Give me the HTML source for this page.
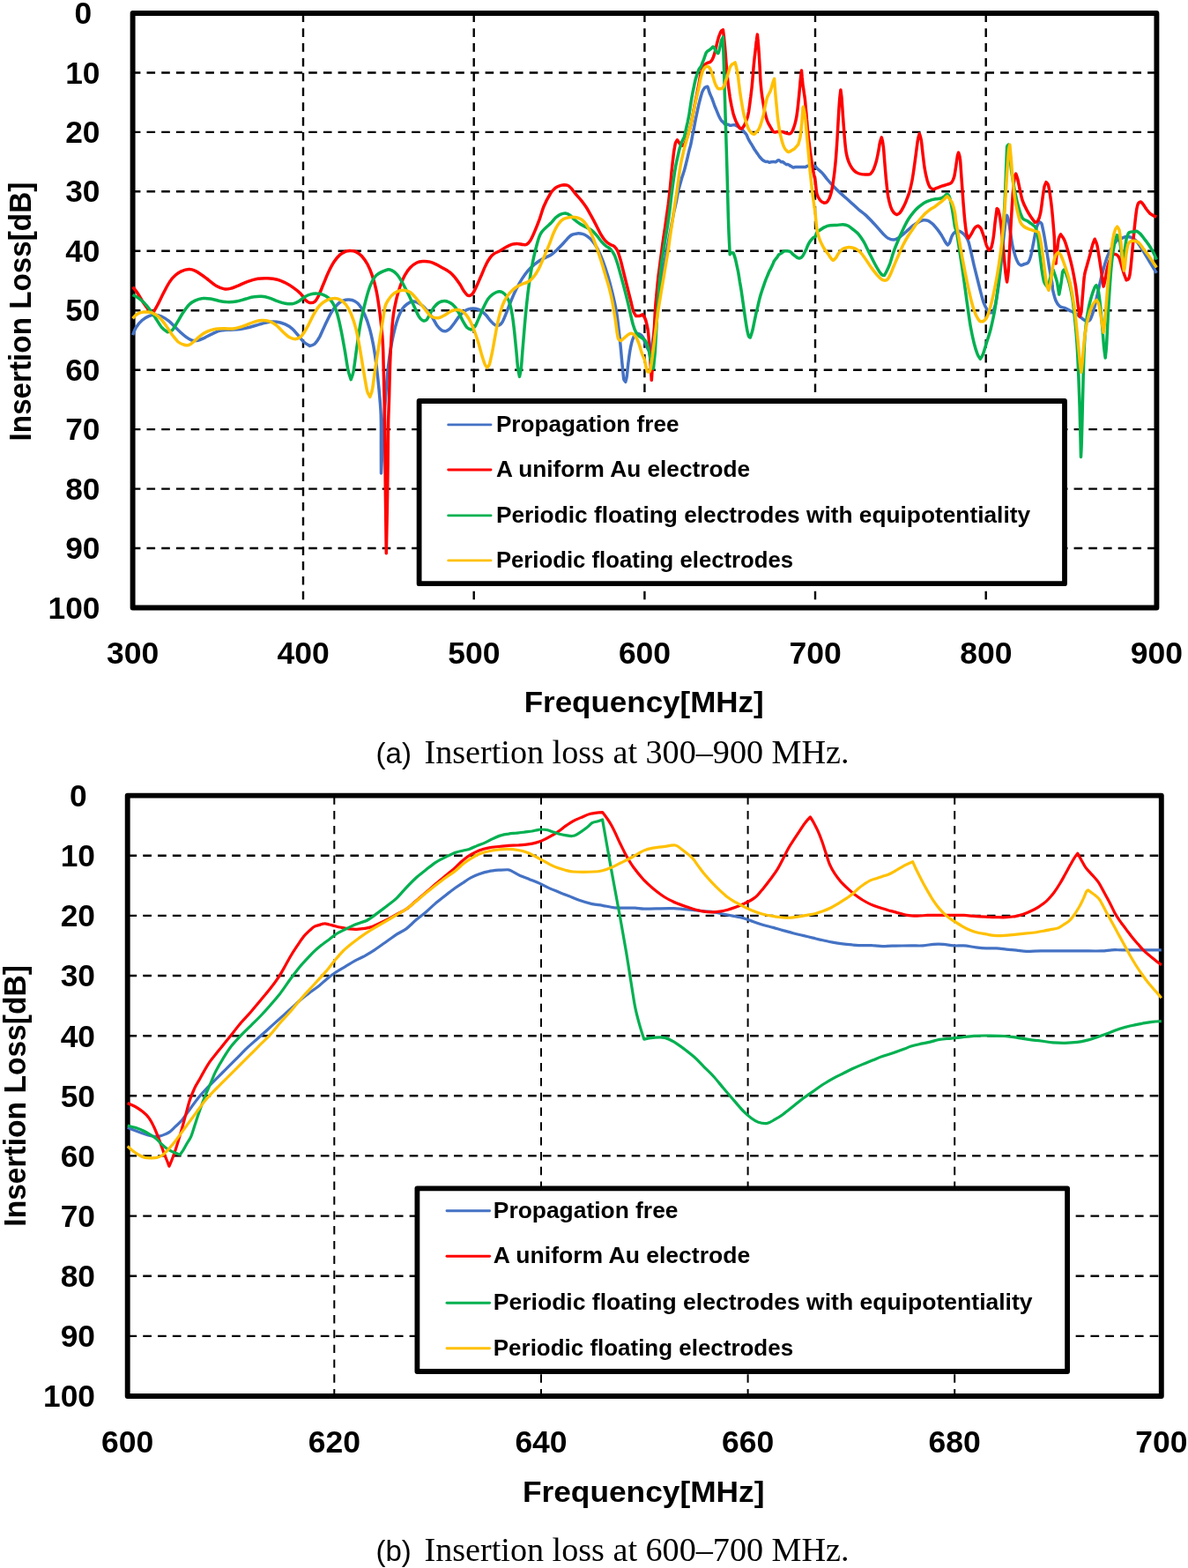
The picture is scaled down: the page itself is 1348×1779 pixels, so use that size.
<!DOCTYPE html>
<html lang="en">
<head>
<meta charset="utf-8">
<title>Insertion loss</title>
<style>
html,body{margin:0;padding:0;background:#fff;}
svg{display:block;}
</style>
</head>
<body>
<svg width="1348" height="1779" viewBox="0 0 1348 1779">
<rect width="1348" height="1779" fill="#fff"/>
<path d="M150.3,82.5H1312.4M150.3,149.9H1312.4M150.3,217.3H1312.4M150.3,284.8H1312.4M150.3,352.2H1312.4M150.3,419.7H1312.4M150.3,487.1H1312.4M150.3,554.6H1312.4M150.3,622.0H1312.4" fill="none" stroke="#000" stroke-width="2.4" stroke-dasharray="9.6 7.1" stroke-dashoffset="0.5"/>
<path d="M344.0,15.0V689.5M537.7,15.0V689.5M731.4,15.0V689.5M925.0,15.0V689.5M1118.7,15.0V689.5" fill="none" stroke="#000" stroke-width="2.4" stroke-dasharray="9.6 7.2" stroke-dashoffset="-0.5"/>
<rect x="150.6" y="15.0" width="1161.8" height="674.5" fill="none" stroke="#000" stroke-width="5.9" stroke-linejoin="round"/>
<path d="M150.6,380.2C151.2,378.7 152.7,374.1 154.5,371.3C156.2,368.5 158.7,365.6 161.1,363.5C163.5,361.4 166.5,359.6 168.9,358.6C171.3,357.5 173.2,357.2 175.6,357.2C178.0,357.3 180.8,357.9 183.4,359.0C186.0,360.1 188.8,362.1 191.2,363.9C193.6,365.8 195.6,368.0 197.9,370.2C200.1,372.3 202.3,374.8 204.5,376.8C206.8,378.9 209.0,380.8 211.2,382.4C213.4,384.0 215.7,385.6 217.9,386.2C220.1,386.8 222.1,386.7 224.6,386.2C227.0,385.7 229.6,384.3 232.4,383.1C235.1,381.8 238.3,379.9 241.3,378.6C244.2,377.3 246.8,375.8 250.2,375.1C253.5,374.3 257.6,374.4 261.3,374.2C265.0,373.9 268.7,374.0 272.4,373.5C276.1,373.0 279.8,372.2 283.5,371.3C287.3,370.3 291.0,368.9 294.7,367.9C298.4,366.9 302.5,365.7 305.8,365.3C309.1,364.8 311.7,364.8 314.7,365.3C317.7,365.7 320.8,366.7 323.6,367.9C326.4,369.2 329.0,370.8 331.4,372.8C333.8,374.9 335.8,377.6 338.1,380.2C340.3,382.7 342.5,385.9 344.7,388.0C347.0,390.0 351.4,392.4 351.4,392.4C351.4,392.4 355.2,391.8 357.0,390.2C358.8,388.6 360.7,385.8 362.6,382.4C364.4,379.0 367.0,372.6 369.2,367.9C371.5,363.3 373.7,358.3 375.9,354.6C378.1,350.9 380.4,347.9 382.6,345.7C384.8,343.4 387.0,342.1 389.3,341.2C391.5,340.3 393.7,340.0 395.9,340.1C398.2,340.2 400.6,340.6 402.6,341.7C404.7,342.8 406.4,344.3 408.2,346.8C410.0,349.2 411.9,352.6 413.7,356.8C415.6,361.0 417.6,366.4 419.3,372.4C421.0,378.3 422.5,385.4 423.8,392.4C425.1,399.5 426.1,406.5 427.1,414.7C428.1,422.8 429.1,432.1 430.0,441.4C430.8,450.6 431.8,459.5 432.2,470.1C432.6,480.7 432.4,493.8 432.4,505.0C432.4,516.2 432.5,537.0 432.5,537.0C432.5,537.0 433.5,517.0 434.2,505.0C434.9,493.0 435.6,478.0 436.5,465.0C437.4,452.0 438.6,435.8 439.4,427.0C440.2,418.2 441.0,411.6 441.9,405.0C442.8,398.4 443.7,393.0 444.8,387.3C445.9,381.7 447.3,375.7 448.5,371.0C449.8,366.3 450.9,362.6 452.3,359.1C453.6,355.7 455.1,352.6 456.7,350.2C458.3,347.9 460.0,346.4 461.9,345.0C463.8,343.7 466.0,342.4 467.8,342.1C469.7,341.7 471.2,342.1 473.0,342.8C474.9,343.6 477.0,344.9 479.0,346.5C480.9,348.1 482.9,350.1 484.9,352.5C486.9,354.8 489.0,357.8 490.8,360.6C492.7,363.5 494.3,367.2 496.0,369.5C497.8,371.9 499.5,373.7 501.2,374.7C502.9,375.7 504.8,375.8 506.4,375.5C508.0,375.1 509.3,374.0 510.9,372.5C512.4,371.0 514.2,368.3 516.1,365.8C517.9,363.3 520.0,359.9 522.0,357.7C524.0,355.4 525.9,353.7 527.9,352.5C529.9,351.2 531.9,350.6 533.9,350.2C535.8,349.9 537.8,349.9 539.8,350.2C541.8,350.6 543.7,351.2 545.7,352.5C547.7,353.7 549.8,355.7 551.7,357.7C553.5,359.6 555.1,362.5 556.9,364.3C558.6,366.2 560.4,368.0 562.0,368.8C563.7,369.5 565.1,369.4 566.5,368.8C567.9,368.2 569.2,366.9 570.2,365.1C571.3,363.3 573.1,358.6 574.7,354.7C576.3,350.7 578.0,345.8 579.9,341.3C581.7,336.9 583.7,332.2 585.8,328.0C587.9,323.8 590.2,319.6 592.5,316.1C594.7,312.7 596.8,309.9 599.1,307.2C601.5,304.5 603.8,302.0 606.6,299.8C609.3,297.6 612.2,295.7 615.5,293.9C618.7,292.0 623.3,290.4 625.9,288.7C628.6,287.0 629.9,285.3 631.9,283.5C633.8,281.6 635.8,279.6 637.8,277.5C639.8,275.4 641.9,272.7 643.7,270.9C645.6,269.0 647.1,267.4 648.9,266.4C650.8,265.4 652.9,265.1 654.9,264.9C656.8,264.8 658.9,264.9 660.8,265.4C662.7,265.9 664.1,266.6 666.0,267.9C667.8,269.2 670.0,270.7 671.9,273.1C673.9,275.4 675.9,278.3 677.9,282.0C679.8,285.7 681.8,290.1 683.8,295.3C685.8,300.5 687.9,307.0 689.7,313.1C691.6,319.3 693.3,325.8 694.9,332.4C696.5,339.1 698.1,346.0 699.4,353.2C700.6,360.4 701.5,368.0 702.3,375.5C703.2,382.9 703.9,390.8 704.6,397.7C705.2,404.6 705.8,411.7 706.4,417.0C706.9,422.4 707.5,429.0 707.8,430.4C708.1,431.7 709.8,433.3 709.8,433.3C709.8,433.3 710.9,429.8 711.2,427.4C711.6,425.0 712.4,415.3 713.2,409.6C713.9,403.9 714.8,397.5 715.7,393.3C716.6,389.0 717.7,385.0 718.7,382.9C719.6,380.8 722.4,378.4 722.4,378.4C722.4,378.4 724.8,378.4 726.1,379.2C727.3,379.9 728.9,381.4 729.8,382.9C730.7,384.3 731.0,386.6 731.5,387.9C732.0,389.3 732.4,390.1 732.9,391.2C733.4,392.3 733.9,393.5 734.4,394.5C734.9,395.5 735.6,396.8 735.9,397.2C736.2,397.6 737.0,397.8 737.0,397.8C737.0,397.8 737.5,397.5 737.7,397.2C737.9,396.8 738.2,396.3 738.4,395.6C738.7,395.0 739.1,394.1 739.4,393.0C739.6,391.9 740.1,389.1 740.5,386.8C740.9,384.5 741.3,382.2 741.7,379.1C742.2,376.0 742.7,371.2 743.2,367.0C743.7,362.8 744.3,357.8 744.9,353.8C745.4,349.7 745.9,346.4 746.5,342.7C747.1,339.1 747.7,335.4 748.4,331.7C749.0,328.1 749.6,324.4 750.2,320.7C750.8,317.0 751.4,313.4 752.0,309.7C752.6,306.0 753.3,302.2 753.9,298.7C754.5,295.2 755.1,292.1 755.7,288.8C756.3,285.5 756.9,282.2 757.5,278.9C758.2,275.5 758.8,272.2 759.4,268.9C760.0,265.6 760.6,262.3 761.2,259.0C761.8,255.7 762.5,252.0 763.1,249.1C763.6,246.2 764.0,243.8 764.5,241.4C765.0,239.0 765.5,237.0 766.0,234.8C766.5,232.6 767.0,230.6 767.5,228.2C767.9,225.8 768.4,222.9 768.9,220.5C769.4,218.1 769.8,216.1 770.4,213.9C771.0,211.7 771.6,209.5 772.2,207.3C772.8,205.0 773.5,202.7 774.1,200.6C774.7,198.6 775.3,197.2 775.9,195.1C776.5,193.1 777.1,191.2 777.7,188.5C778.4,185.9 779.4,181.7 780.1,178.8C780.8,175.9 781.3,173.4 781.9,171.1C782.5,168.7 783.1,167.1 783.7,164.4C784.3,161.8 785.0,157.7 785.6,154.5C786.2,151.4 786.8,148.8 787.4,145.7C788.0,142.6 788.6,138.9 789.2,135.8C789.9,132.7 790.5,129.9 791.1,127.0C791.7,124.1 792.4,121.0 792.9,118.6C793.5,116.2 793.9,114.6 794.4,112.7C794.9,110.8 795.4,108.7 795.9,107.2C796.3,105.6 796.8,104.4 797.3,103.2C797.9,102.0 798.6,100.8 799.2,100.1C799.7,99.4 800.4,99.1 801.0,98.8C801.6,98.5 802.8,98.3 802.8,98.3C802.8,98.3 803.3,99.4 803.6,100.1C803.8,100.8 804.5,103.4 805.0,105.0C805.6,106.5 806.3,107.9 806.9,109.4C807.5,110.8 808.1,112.1 808.7,113.8C809.3,115.4 809.9,117.6 810.6,119.3C811.2,120.9 811.8,122.2 812.4,123.7C813.0,125.2 813.6,126.6 814.2,128.1C814.8,129.6 815.3,131.0 816.1,132.5C816.8,133.9 817.9,136.0 818.5,136.8C819.1,137.6 819.8,137.8 820.4,138.5C821.1,139.2 821.9,140.5 822.7,141.0C823.4,141.4 824.3,141.2 824.9,141.3C825.6,141.3 826.0,141.1 826.6,141.3C827.1,141.5 827.6,142.2 828.2,142.3C828.9,142.4 829.6,142.0 830.5,142.0C831.4,141.9 832.6,141.5 833.8,141.8C835.0,142.1 836.8,143.3 837.6,143.7C838.3,144.2 838.8,144.5 839.4,144.9C840.1,145.2 840.7,145.4 841.3,146.0C841.9,146.5 842.5,147.5 843.2,148.2C843.8,148.9 844.4,149.7 845.0,150.4C845.6,151.2 846.3,151.6 846.9,152.6C847.5,153.6 848.1,155.4 848.7,156.7C849.3,157.9 850.0,159.3 850.6,160.4C851.2,161.5 851.8,162.3 852.4,163.3C853.1,164.3 853.7,165.4 854.3,166.4C854.9,167.5 855.5,168.6 856.1,169.6C856.8,170.5 857.4,171.3 858.0,172.2C858.6,173.1 859.2,174.0 859.9,174.9C860.5,175.8 861.1,176.8 861.7,177.6C862.3,178.4 862.9,179.1 863.6,179.8C864.2,180.5 864.8,181.1 865.4,181.6C866.0,182.1 866.7,182.4 867.3,182.7C867.9,183.0 868.5,183.2 869.1,183.4C869.8,183.5 870.4,183.2 871.0,183.4C871.6,183.5 872.2,184.2 872.8,184.2C873.5,184.3 873.9,183.9 874.7,183.8C875.5,183.7 877.3,183.6 878.2,183.6C879.2,183.6 879.8,183.9 880.5,183.6C881.2,183.3 881.8,182.3 882.4,182.0C883.1,181.8 883.7,181.8 884.3,182.0C885.0,182.3 885.6,183.3 886.2,183.6C886.9,183.9 887.4,183.3 888.1,183.6C888.8,183.9 889.7,184.9 890.4,185.4C891.1,185.9 891.7,186.4 892.3,186.6C892.9,186.8 893.6,186.4 894.2,186.6C894.8,186.8 895.5,187.3 896.1,187.7C896.7,188.1 897.4,188.5 898.0,188.8C898.6,189.2 899.1,189.9 899.9,190.0C900.6,190.1 901.5,189.6 902.5,189.5C903.6,189.5 905.1,189.5 906.3,189.5C907.6,189.5 908.9,189.5 910.1,189.5C911.4,189.5 913.1,189.7 913.9,189.5C914.8,189.4 915.2,188.6 915.8,188.4C916.5,188.2 917.0,188.4 917.7,188.4C918.5,188.4 920.3,188.4 921.5,188.4C922.8,188.4 925.1,188.4 925.1,188.4C925.1,188.4 926.0,190.1 926.9,190.9C927.7,191.8 930.8,194.0 932.8,196.1C934.8,198.2 936.8,201.2 938.7,203.5C940.7,205.9 942.4,207.9 944.7,210.2C946.9,212.6 949.6,215.3 952.1,217.6C954.6,220.0 957.0,222.1 959.5,224.3C962.0,226.5 964.5,228.8 966.9,231.0C969.4,233.2 971.9,235.6 974.3,237.7C976.8,239.8 979.3,241.4 981.8,243.6C984.2,245.8 986.7,248.4 989.2,251.0C991.7,253.6 994.4,256.7 996.6,259.2C998.8,261.6 1000.7,264.0 1002.5,265.8C1004.4,267.7 1005.9,269.3 1007.7,270.3C1009.6,271.3 1011.8,272.1 1013.7,272.1C1015.5,272.1 1017.0,271.3 1018.9,270.3C1020.7,269.3 1022.8,267.5 1024.8,265.8C1026.8,264.2 1028.7,262.4 1030.7,260.7C1032.7,258.9 1034.7,256.9 1036.7,255.5C1038.6,254.0 1040.7,252.7 1042.6,251.8C1044.5,250.8 1046.1,250.1 1047.8,249.8C1049.5,249.6 1051.3,249.6 1053.0,250.3C1054.7,251.0 1056.4,252.4 1058.2,254.0C1059.9,255.6 1061.6,257.7 1063.4,259.9C1065.1,262.1 1067.1,265.0 1068.6,267.3C1070.0,269.7 1071.2,272.3 1072.3,274.0C1073.3,275.7 1075.2,278.0 1075.2,278.0C1075.2,278.0 1076.9,276.7 1077.5,275.5C1078.1,274.3 1079.3,269.4 1080.4,267.3C1081.5,265.3 1083.2,263.6 1084.1,262.9C1085.1,262.1 1085.9,261.9 1087.1,262.1C1088.3,262.3 1090.4,263.1 1091.8,264.1C1093.2,265.1 1094.6,266.3 1095.7,268.0C1096.9,269.7 1098.0,271.7 1098.9,274.3C1099.8,277.0 1101.0,282.5 1102.0,286.9C1103.1,291.4 1104.0,296.1 1105.2,301.1C1106.4,306.1 1107.8,311.6 1109.1,316.8C1110.4,322.1 1111.9,328.1 1113.1,332.6C1114.2,337.0 1115.0,340.4 1116.2,343.6C1117.4,346.7 1119.2,350.0 1120.1,351.5C1121.1,353.0 1122.2,354.1 1123.3,354.6C1124.3,355.1 1126.4,354.6 1126.4,354.6C1126.4,354.6 1128.7,349.1 1129.6,345.2C1130.4,341.3 1131.7,333.9 1132.7,326.3C1133.8,318.7 1135.0,307.9 1135.9,299.5C1136.8,291.1 1137.4,283.5 1138.2,275.9C1139.0,268.3 1140.1,257.7 1140.6,253.9C1141.1,250.1 1142.6,244.4 1142.6,244.4C1142.6,244.4 1144.0,248.1 1144.5,250.7C1145.0,253.3 1146.1,261.5 1146.9,266.5C1147.7,271.5 1148.3,276.4 1149.3,280.6C1150.2,284.8 1151.4,288.7 1152.4,291.7C1153.4,294.6 1154.7,297.4 1155.5,298.7C1156.4,300.0 1158.7,301.1 1158.7,301.1C1158.7,301.1 1161.3,300.0 1162.6,299.5C1163.9,299.0 1165.5,299.3 1166.6,297.9C1167.6,296.6 1168.8,293.4 1169.7,290.1C1170.6,286.8 1171.8,279.6 1172.9,274.3C1173.9,269.1 1175.2,261.6 1176.0,258.6C1176.8,255.6 1179.2,251.5 1179.2,251.5C1179.2,251.5 1181.5,252.5 1182.0,253.9C1182.5,255.3 1183.7,261.4 1184.7,266.5C1185.6,271.5 1186.8,278.8 1187.8,285.4C1188.9,291.9 1189.9,299.5 1191.0,305.8C1192.0,312.1 1193.8,320.9 1194.1,323.1C1194.5,325.3 1194.0,326.5 1194.5,328.7C1195.0,330.9 1196.9,338.5 1198.1,341.3C1199.3,344.2 1200.9,346.3 1202.6,347.6C1204.2,349.0 1206.2,348.7 1208.0,349.4C1209.8,350.2 1211.6,351.2 1213.4,352.1C1215.2,353.0 1217.0,353.8 1218.8,354.8C1220.6,355.8 1222.5,357.2 1224.2,358.4C1225.8,359.6 1227.2,360.9 1228.7,362.0C1230.2,363.0 1233.2,364.7 1233.2,364.7C1233.2,364.7 1235.9,364.2 1236.8,362.9C1237.7,361.6 1239.2,357.6 1240.4,353.9C1241.5,350.2 1242.8,344.6 1244.0,339.5C1245.2,334.4 1246.2,329.0 1247.6,323.3C1248.9,317.6 1250.6,310.7 1252.1,305.3C1253.6,299.9 1254.9,295.1 1256.6,290.9C1258.2,286.7 1260.2,283.1 1262.0,280.2C1263.7,277.2 1265.6,274.6 1267.3,273.0C1269.1,271.3 1270.9,271.0 1272.7,270.3C1274.5,269.5 1276.3,268.6 1278.1,268.5C1279.9,268.3 1281.7,268.6 1283.5,269.4C1285.3,270.1 1287.1,271.2 1288.9,273.0C1290.7,274.8 1292.5,277.5 1294.3,280.2C1296.1,282.8 1297.9,286.1 1299.7,289.1C1301.5,292.1 1303.5,295.4 1305.1,298.1C1306.8,300.8 1308.5,303.5 1309.6,305.3C1310.7,307.1 1311.9,309.1 1312.4,309.8" fill="none" stroke="#4472C4" stroke-width="3.5" stroke-linejoin="round" stroke-linecap="butt"/>
<path d="M150.6,325.6C151.6,326.9 154.6,330.3 156.7,333.4C158.8,336.6 161.1,341.3 163.4,344.6C165.6,347.8 168.6,351.7 170.0,352.8C171.4,353.9 174.5,353.5 174.5,353.5C174.5,353.5 177.3,348.8 178.9,345.7C180.6,342.5 183.4,336.6 185.6,332.3C187.8,328.1 190.1,323.4 192.3,320.1C194.5,316.7 196.7,314.3 199.0,312.3C201.2,310.2 203.0,308.9 205.6,307.8C208.2,306.7 211.9,305.7 214.5,305.6C217.1,305.5 219.0,306.2 221.2,307.2C223.4,308.1 225.3,309.4 227.9,311.2C230.5,312.9 233.8,315.6 236.8,317.9C239.8,320.1 242.7,322.9 245.7,324.5C248.7,326.2 252.0,327.4 254.6,327.9C257.2,328.4 258.7,328.1 261.3,327.4C263.9,326.8 266.8,325.4 270.2,324.1C273.5,322.7 277.6,320.7 281.3,319.4C285.0,318.1 288.7,316.9 292.4,316.3C296.2,315.7 299.9,315.7 303.6,315.8C307.3,316.0 311.4,316.4 314.7,317.2C318.0,318.0 320.6,319.3 323.6,320.7C326.6,322.2 329.5,324.0 332.5,326.1C335.5,328.2 339.0,331.0 341.4,333.4C343.8,335.9 345.5,339.3 347.0,340.8C348.4,342.2 349.8,343.2 351.4,343.4C353.1,343.7 355.3,343.6 357.0,342.3C358.7,341.0 360.0,338.5 361.4,335.7C362.9,332.8 365.1,326.8 367.0,322.3C368.9,317.9 370.5,313.2 372.6,308.9C374.6,304.7 377.0,300.0 379.2,296.7C381.5,293.4 383.7,290.8 385.9,288.9C388.1,287.0 390.6,285.9 392.6,285.1C394.6,284.4 396.3,284.4 398.2,284.5C400.0,284.5 401.7,284.6 403.7,285.6C405.8,286.6 408.2,288.1 410.4,290.5C412.6,292.9 415.0,296.2 417.1,300.0C419.1,303.9 421.0,308.4 422.6,313.4C424.3,318.4 425.7,323.3 427.1,330.1C428.5,336.9 429.8,346.0 430.9,354.6C432.0,363.1 433.1,373.8 433.8,381.3C434.4,388.8 434.6,392.5 434.8,400.0C435.0,407.5 435.7,437.6 436.0,450.0C436.3,462.4 436.4,468.6 436.6,481.0C436.8,493.4 437.1,537.5 437.4,562.0C437.7,586.5 438.3,627.7 438.3,627.7C438.3,627.7 439.2,586.5 439.6,562.0C440.0,537.5 440.4,493.4 440.6,481.0C440.8,468.6 441.3,461.4 441.6,450.0C441.9,438.6 442.2,423.7 442.6,412.6C443.0,401.4 443.5,392.0 444.1,382.9C444.7,373.7 445.3,365.1 446.3,357.7C447.3,350.2 448.7,344.1 450.0,338.4C451.4,332.7 452.9,328.0 454.5,323.5C456.1,319.1 457.8,315.0 459.7,311.7C461.5,308.3 463.4,305.8 465.6,303.5C467.8,301.2 470.6,299.2 473.0,298.0C475.5,296.8 478.0,296.7 480.4,296.5C482.9,296.4 485.4,296.5 487.9,297.1C490.3,297.7 492.8,298.9 495.3,300.1C497.8,301.3 500.2,302.8 502.7,304.2C505.2,305.7 507.9,307.0 510.1,308.7C512.3,310.4 514.1,312.3 516.1,314.6C518.0,317.0 520.3,320.2 522.0,322.8C523.7,325.4 525.1,328.3 526.4,330.2C527.8,332.1 529.2,333.9 530.1,334.7C531.1,335.4 532.0,335.8 533.1,335.4C534.2,335.0 535.7,334.0 536.8,332.4C537.9,330.9 539.7,327.0 541.3,323.5C542.9,320.1 544.7,315.6 546.5,311.7C548.2,307.7 550.1,302.9 551.7,299.8C553.2,296.7 554.6,294.4 556.1,292.4C557.6,290.4 558.8,289.2 560.6,287.9C562.3,286.7 564.3,286.2 566.5,285.0C568.7,283.7 571.4,281.8 573.9,280.5C576.4,279.2 579.1,277.9 581.3,277.2C583.6,276.5 585.3,276.3 587.3,276.4C589.2,276.4 591.5,277.4 593.2,277.5C594.9,277.7 596.2,278.1 597.7,277.2C599.1,276.4 600.7,274.6 602.1,272.3C603.5,270.1 605.6,265.3 607.3,261.2C609.0,257.1 610.9,252.3 612.5,247.9C614.1,243.4 615.0,239.2 616.9,234.5C618.9,229.8 622.8,222.4 624.5,219.7C626.1,217.0 627.9,215.2 629.6,213.7C631.4,212.3 633.1,211.4 634.8,210.8C636.6,210.1 638.4,209.8 640.0,209.7C641.6,209.7 643.1,209.8 644.5,210.5C645.8,211.1 646.9,212.3 648.2,213.7C649.5,215.2 651.5,218.2 653.4,220.4C655.2,222.6 657.3,224.6 659.3,227.1C661.3,229.6 663.3,232.2 665.3,235.3C667.2,238.3 669.2,242.1 671.2,245.6C673.2,249.2 675.4,253.4 677.1,256.8C678.9,260.1 680.0,262.9 681.6,265.7C683.2,268.4 684.9,271.1 686.8,273.1C688.6,275.1 691.0,276.5 692.7,277.5C694.4,278.6 695.8,278.5 697.2,279.8C698.5,281.0 699.8,282.6 700.9,285.0C701.9,287.3 703.3,292.4 704.6,296.8C705.8,301.3 707.0,306.7 708.3,311.7C709.5,316.6 710.8,321.6 712.0,326.5C713.2,331.4 714.6,336.9 715.7,341.3C716.8,345.8 717.9,350.9 718.7,353.2C719.5,355.5 721.6,358.4 721.6,358.4C721.6,358.4 724.1,358.6 725.3,358.4C726.6,358.2 729.1,356.9 729.1,356.9C729.1,356.9 730.9,359.1 731.5,360.4C732.1,361.6 732.5,362.7 732.9,364.3C733.4,366.0 734.0,368.2 734.4,370.3C734.8,372.4 735.2,374.2 735.5,376.9C735.8,379.6 736.1,383.0 736.4,386.8C736.7,390.7 737.0,395.3 737.3,400.0C737.6,404.8 738.0,411.0 738.3,415.4C738.5,419.9 738.9,424.5 739.0,426.5C739.1,428.4 739.3,431.3 739.3,431.3C739.3,431.3 739.6,427.7 739.7,425.4C739.9,423.0 740.2,418.1 740.5,413.2C740.7,408.4 741.1,401.9 741.4,395.6C741.7,389.4 742.0,382.4 742.3,375.8C742.6,369.2 742.9,361.3 743.2,356.0C743.5,350.7 743.9,345.8 744.1,342.7C744.4,339.7 744.6,338.0 744.9,335.0C745.1,332.1 745.4,328.6 745.8,325.1C746.1,321.6 746.5,317.8 746.9,314.1C747.3,310.4 747.9,306.8 748.4,303.1C748.8,299.4 749.3,295.7 749.8,292.1C750.3,288.4 750.8,284.7 751.3,281.1C751.8,277.4 752.2,273.9 752.8,270.0C753.3,266.2 754.0,262.1 754.6,257.9C755.2,253.7 755.8,249.1 756.4,244.7C757.1,240.3 757.7,235.7 758.3,231.5C758.8,227.3 759.3,223.2 759.7,219.4C760.2,215.5 760.5,212.2 760.8,208.4C761.2,204.5 761.6,200.3 761.9,196.2C762.3,192.2 762.8,188.0 763.2,184.1C763.7,180.3 764.2,175.8 764.5,173.1C764.9,170.4 765.3,168.3 765.6,166.5C765.9,164.7 766.3,162.8 766.5,162.1C766.8,161.3 767.2,160.9 767.5,160.3C767.8,159.8 768.4,158.8 768.4,158.8C768.4,158.8 769.0,159.4 769.3,159.9C769.6,160.4 770.0,161.1 770.4,161.6C770.8,162.2 771.1,162.7 771.5,163.2C771.9,163.7 772.5,164.4 773.0,164.7C773.5,165.1 774.0,165.2 774.4,165.2C774.9,165.1 775.4,164.8 775.9,164.3C776.4,163.8 777.0,163.1 777.4,162.1C777.8,161.1 779.3,156.8 780.1,154.5C780.8,152.3 781.3,150.6 781.9,148.6C782.5,146.6 783.1,144.9 783.7,142.4C784.3,139.9 785.0,136.3 785.6,133.2C786.2,130.0 786.8,126.8 787.4,123.7C788.0,120.5 788.6,117.3 789.2,114.2C789.9,111.1 790.5,108.0 791.1,105.0C791.7,101.9 792.4,98.6 792.9,95.7C793.5,92.8 793.9,89.8 794.4,87.3C794.9,84.9 795.4,82.9 795.9,81.2C796.3,79.4 796.8,78.0 797.3,76.8C797.9,75.5 798.6,74.4 799.2,73.7C799.7,73.0 800.4,72.8 801.0,72.4C801.6,71.9 802.2,71.5 802.8,71.3C803.4,71.0 804.1,71.1 804.7,70.8C805.3,70.6 806.0,70.2 806.5,69.7C807.1,69.2 807.6,68.6 808.0,67.9C808.4,67.3 808.7,66.7 809.1,65.7C809.4,64.8 810.1,63.0 810.6,61.3C811.0,59.7 811.5,58.0 812.0,56.0C812.5,54.1 813.0,51.5 813.5,49.4C814.0,47.4 814.5,45.3 815.0,43.7C815.4,42.1 815.9,41.1 816.4,39.7C817.0,38.4 817.6,36.4 818.2,35.5C818.8,34.5 820.4,33.8 820.4,33.8C820.4,33.8 821.6,42.5 822.1,48.3C822.7,54.1 823.4,63.8 823.8,69.2C824.2,74.5 824.5,78.1 824.9,82.5C825.3,87.0 825.7,91.3 826.3,95.9C826.9,100.5 827.7,106.4 828.2,110.1C828.8,113.8 829.3,116.1 829.9,119.3C830.6,122.5 831.4,126.6 832.1,129.3C832.9,132.0 833.7,134.1 834.4,136.0C835.1,137.8 835.9,139.2 836.5,140.4C837.0,141.6 837.5,142.5 838.0,143.3C838.5,144.1 839.0,144.9 839.4,145.3C839.9,145.7 840.4,146.0 840.9,146.0C841.4,146.0 841.9,145.7 842.4,145.3C842.9,144.9 843.4,144.1 843.9,143.3C844.4,142.5 844.9,141.5 845.4,140.4C845.9,139.3 846.4,138.0 846.9,136.6C847.4,135.2 847.9,133.8 848.4,132.2C848.8,130.6 849.1,129.1 849.5,127.0C849.8,125.0 850.2,122.2 850.6,119.3C851.0,116.3 851.4,112.8 851.9,109.2C852.3,105.7 852.8,102.0 853.2,98.1C853.6,94.2 853.9,89.8 854.3,85.9C854.6,82.0 854.9,78.1 855.2,74.7C855.5,71.4 855.8,69.0 856.1,65.8C856.5,62.7 856.9,59.2 857.3,55.8C857.6,52.5 858.0,48.5 858.4,45.8C858.7,43.1 859.4,39.1 859.4,39.1C859.4,39.1 859.8,43.2 860.0,45.8C860.3,48.4 860.5,51.4 860.8,54.7C861.0,58.1 861.3,61.8 861.5,65.8C861.8,69.9 862.0,74.7 862.3,79.2C862.5,83.6 862.7,88.7 863.0,92.6C863.3,96.4 863.6,99.4 863.9,102.6C864.3,105.7 864.6,108.7 865.1,111.5C865.5,114.3 865.9,116.8 866.4,119.3C866.8,121.7 867.2,123.8 867.6,125.9C868.1,128.1 868.6,130.3 869.1,132.2C869.6,134.0 870.1,135.7 870.6,137.1C871.1,138.4 871.5,139.3 872.1,140.4C872.7,141.5 873.4,142.8 874.0,143.7C874.5,144.7 874.9,145.2 875.4,146.2C876.0,147.1 876.9,148.9 877.5,149.5C878.1,150.0 878.8,150.1 879.4,150.1C880.0,150.1 880.6,149.6 881.3,149.5C882.0,149.4 882.8,149.5 883.6,149.5C884.3,149.5 885.1,149.5 885.8,149.5C886.6,149.5 887.4,149.3 888.1,149.5C888.9,149.7 889.6,150.3 890.4,150.6C891.2,150.9 892.0,151.1 892.7,151.3C893.4,151.5 894.0,151.7 894.6,151.7C895.1,151.8 895.6,151.9 896.1,151.7C896.6,151.6 897.1,151.3 897.6,150.8C898.1,150.3 898.6,149.5 899.1,148.6C899.6,147.6 900.1,146.4 900.6,144.9C901.2,143.5 901.7,141.9 902.2,139.9C902.7,137.9 903.2,135.7 903.7,133.1C904.2,130.4 904.6,127.2 905.0,124.0C905.4,120.7 905.8,117.1 906.1,113.7C906.5,110.3 906.8,106.9 907.1,103.5C907.4,100.1 907.8,96.3 908.0,93.2C908.3,90.2 908.6,87.4 908.8,85.3C909.0,83.2 909.5,80.0 909.5,80.0C909.5,80.0 909.9,85.0 910.1,87.5C910.4,90.1 910.7,93.4 910.9,95.5C911.1,97.6 911.4,99.0 911.7,100.8C911.9,102.5 912.1,103.8 912.4,105.8C912.7,107.7 913.1,109.8 913.4,112.6C913.7,115.3 914.0,119.0 914.3,122.8C914.7,126.6 915.1,131.4 915.4,135.4C915.8,139.3 916.1,143.3 916.4,146.7C916.7,150.1 917.0,152.8 917.3,155.8C917.7,158.9 918.1,161.9 918.5,164.9C918.9,168.0 919.2,171.2 919.6,174.1C920.0,176.9 920.4,179.4 920.8,182.0C921.1,184.6 921.5,187.0 921.9,189.5C922.3,192.1 922.9,194.6 923.4,197.3C924.0,199.9 924.6,202.2 925.1,205.5C925.6,208.8 926.1,216.6 926.9,219.9C927.7,223.1 929.3,225.6 930.6,227.3C931.9,229.0 935.0,230.2 935.0,230.2C935.0,230.2 937.7,230.0 938.7,228.8C939.8,227.5 941.5,224.5 942.4,221.3C943.4,218.2 944.5,212.4 945.4,206.5C946.3,200.6 947.2,193.6 947.9,185.7C948.7,177.8 949.3,167.9 949.9,159.0C950.4,150.1 950.9,140.2 951.4,132.3C951.8,124.4 952.5,115.4 952.8,111.5C953.2,107.7 953.9,101.9 953.9,101.9C953.9,101.9 954.7,107.7 955.1,111.5C955.4,115.4 956.0,124.9 956.5,132.3C957.1,139.7 957.7,149.1 958.3,156.1C958.9,163.0 959.5,169.6 960.3,173.9C961.0,178.1 962.1,181.4 963.2,184.2C964.3,187.1 965.6,189.1 966.9,190.9C968.3,192.8 969.6,194.3 971.4,195.4C973.1,196.5 975.3,197.2 977.3,197.6C979.3,198.0 981.5,197.9 983.2,197.9C985.0,197.8 986.3,198.3 987.7,197.3C989.1,196.3 990.3,194.1 991.4,191.7C992.5,189.2 993.5,186.0 994.4,182.8C995.2,179.5 995.9,175.8 996.6,172.4C997.3,168.9 997.8,164.5 998.4,162.0C999.0,159.4 1000.3,155.8 1000.3,155.8C1000.3,155.8 1001.8,161.2 1002.2,165.0C1002.7,168.7 1003.2,176.3 1003.7,182.8C1004.3,189.2 1004.8,196.9 1005.5,203.5C1006.2,210.2 1006.9,218.0 1007.7,222.8C1008.5,227.6 1009.9,232.2 1010.7,234.7C1011.5,237.2 1012.6,239.1 1013.7,240.6C1014.8,242.1 1017.4,243.6 1017.4,243.6C1017.4,243.6 1019.9,242.6 1021.1,241.4C1022.2,240.1 1023.6,237.8 1024.8,235.4C1026.0,233.1 1027.3,230.4 1028.5,227.3C1029.7,224.2 1031.1,220.8 1032.2,216.9C1033.3,212.9 1034.3,208.2 1035.2,203.5C1036.0,198.8 1036.7,193.9 1037.4,188.7C1038.1,183.5 1039.0,177.3 1039.6,172.4C1040.3,167.4 1040.9,162.0 1041.4,159.0C1041.9,156.0 1043.3,151.6 1043.3,151.6C1043.3,151.6 1044.8,156.0 1045.3,159.0C1045.8,162.0 1046.4,168.4 1047.0,173.9C1047.7,179.3 1048.4,186.5 1049.3,191.7C1050.1,196.9 1051.4,201.9 1052.2,205.0C1053.1,208.1 1054.2,211.0 1055.2,212.4C1056.2,213.9 1057.6,214.5 1058.9,214.7C1060.3,214.8 1061.6,213.8 1063.4,213.2C1065.1,212.6 1067.3,211.6 1069.3,210.9C1071.3,210.3 1073.5,209.8 1075.2,209.2C1077.0,208.6 1078.5,208.7 1079.7,207.2C1080.9,205.8 1081.9,203.4 1082.7,200.6C1083.4,197.7 1084.3,191.2 1084.9,187.2C1085.5,183.3 1086.1,178.4 1086.4,176.8C1086.7,175.3 1087.6,173.1 1087.6,173.1C1087.6,173.1 1089.1,177.1 1089.4,179.9C1089.8,182.7 1090.4,193.8 1091.0,201.9C1091.6,210.1 1092.3,220.3 1092.9,228.7C1093.6,237.1 1094.3,246.6 1095.0,252.3C1095.6,258.0 1096.6,264.8 1097.0,266.5C1097.4,268.2 1098.9,270.4 1098.9,270.4C1098.9,270.4 1100.9,267.6 1102.0,265.7C1103.2,263.7 1104.8,260.0 1106.0,258.6C1107.1,257.2 1109.9,256.2 1109.9,256.2C1109.9,256.2 1112.2,257.8 1113.1,259.4C1113.9,261.0 1115.2,264.9 1116.2,268.0C1117.2,271.2 1118.5,276.0 1119.3,278.3C1120.2,280.6 1122.2,283.8 1122.2,283.8C1122.2,283.8 1124.3,282.2 1124.9,280.6C1125.4,279.1 1126.5,274.1 1127.2,269.6C1127.9,265.2 1128.5,257.8 1129.1,252.3C1129.8,246.8 1131.2,236.6 1131.2,236.6C1131.2,236.6 1132.4,237.3 1132.7,238.1C1133.0,239.0 1134.2,243.8 1134.8,247.6C1135.4,251.4 1136.0,257.0 1136.7,263.3C1137.3,269.6 1138.3,280.6 1139.0,288.5C1139.8,296.4 1140.6,306.7 1141.1,310.5C1141.5,314.3 1142.6,320.0 1142.6,320.0C1142.6,320.0 1143.8,312.5 1144.2,307.4C1144.6,302.3 1145.2,289.6 1145.8,279.1C1146.4,268.6 1147.0,254.9 1147.7,244.4C1148.3,233.9 1149.0,222.4 1149.6,216.1C1150.1,209.8 1151.1,201.7 1151.3,200.4C1151.5,199.0 1152.7,197.2 1152.7,197.2C1152.7,197.2 1154.1,200.9 1154.8,203.5C1155.4,206.1 1156.2,210.5 1157.1,214.5C1158.0,218.6 1159.0,224.0 1160.3,227.9C1161.6,231.8 1163.4,235.1 1165.0,238.1C1166.6,241.2 1168.1,243.6 1169.7,246.0C1171.3,248.4 1174.4,252.3 1174.4,252.3C1174.4,252.3 1176.9,252.0 1177.6,250.7C1178.3,249.5 1179.9,245.2 1180.7,241.3C1181.5,237.4 1182.4,229.0 1183.1,224.0C1183.8,219.0 1184.7,213.4 1185.1,211.4C1185.6,209.4 1187.0,206.7 1187.0,206.7C1187.0,206.7 1188.9,208.3 1189.4,209.8C1189.8,211.3 1191.0,217.3 1191.7,222.4C1192.5,227.5 1193.4,235.3 1194.1,242.9C1194.8,250.5 1195.7,261.1 1196.2,268.0C1196.6,275.0 1196.5,280.4 1196.8,285.5C1197.2,290.7 1198.1,299.0 1198.1,299.0C1198.1,299.0 1198.8,290.2 1199.4,285.5C1199.9,280.9 1200.7,273.5 1201.2,271.2C1201.6,268.9 1203.5,265.8 1203.5,265.8C1203.5,265.8 1206.7,269.8 1208.0,273.0C1209.3,276.1 1211.0,282.0 1212.5,287.3C1214.0,292.7 1215.6,299.0 1217.0,305.3C1218.3,311.6 1219.5,318.2 1220.6,325.1C1221.6,332.0 1222.6,341.7 1223.3,346.7C1223.9,351.8 1225.1,359.3 1225.1,359.3C1225.1,359.3 1226.6,356.2 1226.9,353.9C1227.2,351.6 1228.1,339.2 1228.7,332.3C1229.3,325.4 1229.8,316.9 1230.5,312.5C1231.1,308.1 1232.1,305.6 1233.2,301.7C1234.2,297.8 1235.7,293.0 1236.8,289.1C1237.8,285.2 1238.6,281.3 1239.5,278.4C1240.3,275.4 1242.2,271.2 1242.2,271.2C1242.2,271.2 1244.2,275.4 1244.9,278.4C1245.6,281.3 1246.7,288.8 1247.6,294.5C1248.5,300.2 1249.5,307.5 1250.3,312.5C1251.0,317.6 1252.1,325.1 1252.1,325.1C1252.1,325.1 1253.3,320.8 1253.9,317.9C1254.5,315.0 1255.5,307.7 1256.6,303.5C1257.6,299.3 1259.2,294.8 1260.2,292.7C1261.1,290.7 1263.7,288.2 1263.7,288.2C1263.7,288.2 1266.3,288.4 1267.3,289.1C1268.4,289.9 1269.3,291.1 1270.0,292.7C1270.8,294.4 1271.8,298.7 1272.7,301.7C1273.6,304.7 1274.5,308.0 1275.4,310.7C1276.3,313.4 1278.1,317.9 1278.1,317.9C1278.1,317.9 1280.3,317.3 1280.8,316.1C1281.3,314.9 1282.2,310.8 1282.6,307.1C1283.1,303.5 1283.8,295.4 1284.4,289.1C1285.0,282.8 1285.6,275.7 1286.2,269.4C1286.8,263.1 1287.4,256.8 1288.0,251.4C1288.6,246.0 1289.4,239.6 1289.8,237.0C1290.3,234.4 1291.0,231.8 1291.6,230.7C1292.3,229.6 1294.3,228.9 1294.3,228.9C1294.3,228.9 1296.1,230.4 1297.0,231.6C1298.0,232.8 1299.3,235.2 1300.6,237.0C1302.0,238.8 1303.6,241.0 1305.1,242.4C1306.6,243.7 1308.6,244.6 1309.6,245.1C1310.7,245.6 1311.9,245.8 1312.4,246.0" fill="none" stroke="#FF0000" stroke-width="3.5" stroke-linejoin="round" stroke-linecap="butt"/>
<path d="M150.6,334.5C151.6,335.1 154.6,336.4 156.7,337.9C158.8,339.4 161.1,341.2 163.4,343.4C165.6,345.7 167.8,348.3 170.0,351.2C172.3,354.2 174.5,357.9 176.7,361.3C178.9,364.6 181.2,368.7 183.4,371.3C185.6,373.9 190.1,376.8 190.1,376.8C190.1,376.8 193.9,376.3 195.6,374.6C197.3,372.9 199.2,369.0 201.2,365.7C203.2,362.4 205.6,357.9 207.9,354.6C210.1,351.2 212.3,347.9 214.5,345.7C216.8,343.4 218.6,342.4 221.2,341.2C223.8,340.0 227.2,338.9 230.1,338.6C233.1,338.2 236.1,338.6 239.0,339.0C242.0,339.4 245.0,340.6 247.9,341.2C250.9,341.8 253.5,342.4 256.8,342.6C260.2,342.7 264.3,342.7 268.0,342.1C271.7,341.5 275.8,339.9 279.1,339.0C282.4,338.1 285.0,337.2 288.0,336.8C291.0,336.3 293.9,336.1 296.9,336.3C299.9,336.5 302.8,337.2 305.8,338.1C308.8,339.0 311.7,340.6 314.7,341.7C317.7,342.7 320.6,343.9 323.6,344.3C326.6,344.8 329.9,345.0 332.5,344.6C335.1,344.1 337.0,343.0 339.2,341.7C341.4,340.4 343.6,338.1 345.9,336.8C348.1,335.5 350.3,334.5 352.5,333.9C354.8,333.2 357.0,332.9 359.2,333.0C361.4,333.0 363.7,333.3 365.9,334.1C368.1,334.9 370.5,336.1 372.6,337.9C374.6,339.6 376.5,341.6 378.1,344.6C379.8,347.5 381.2,351.1 382.6,355.7C383.9,360.3 385.6,367.4 387.0,374.6C388.5,381.8 390.2,391.7 391.5,399.1C392.8,406.5 393.8,414.4 394.8,419.1C395.8,423.8 398.2,430.7 398.2,430.7C398.2,430.7 400.3,425.2 401.1,421.3C401.8,417.5 403.5,403.9 404.8,394.6C406.2,385.4 407.6,374.6 409.3,365.7C411.0,356.8 413.0,348.3 414.9,341.2C416.7,334.2 418.4,328.2 420.4,323.4C422.4,318.6 423.9,315.2 427.1,312.3C430.3,309.4 437.6,306.6 439.6,306.0C441.7,305.4 443.1,306.1 444.8,306.9C446.6,307.7 448.3,309.0 450.0,310.9C451.8,312.8 453.5,315.5 455.2,318.3C457.0,321.2 458.7,324.6 460.4,328.0C462.1,331.3 463.9,334.8 465.6,338.4C467.3,342.0 469.2,346.0 470.8,349.5C472.4,353.0 473.9,357.0 475.3,359.1C476.6,361.3 478.2,363.0 479.7,363.6C481.2,364.2 482.8,364.1 484.2,362.8C485.5,361.6 486.5,358.5 487.9,356.2C489.2,353.8 490.7,350.9 492.3,348.8C493.9,346.7 495.5,344.7 497.5,343.6C499.5,342.4 502.0,341.6 504.2,341.6C506.4,341.6 508.8,342.4 510.9,343.6C513.0,344.7 515.1,346.7 516.8,348.8C518.5,350.9 519.8,353.5 521.2,356.2C522.7,358.9 524.2,362.5 525.7,365.1C527.2,367.7 528.7,370.3 530.1,371.8C531.6,373.2 534.6,374.0 534.6,374.0C534.6,374.0 537.8,372.2 539.1,370.3C540.3,368.3 541.9,364.2 543.5,360.6C545.1,357.0 547.0,352.3 548.7,348.8C550.4,345.2 552.2,341.5 553.9,339.1C555.6,336.7 557.2,335.3 559.1,333.9C560.9,332.6 563.2,331.3 565.0,330.9C566.9,330.6 568.6,330.8 570.2,331.7C571.8,332.6 573.3,334.0 574.7,336.1C576.0,338.2 577.3,340.9 578.4,344.3C579.4,347.7 580.5,352.5 581.3,357.7C582.2,362.8 582.8,368.8 583.6,375.5C584.3,382.1 585.1,390.8 585.8,397.7C586.5,404.6 587.0,412.8 587.6,417.0C588.1,421.2 589.5,427.4 589.5,427.4C589.5,427.4 590.9,421.2 591.4,417.0C591.9,412.8 592.5,402.9 593.2,394.7C593.9,386.6 594.7,376.4 595.4,368.0C596.2,359.6 596.8,352.2 597.7,344.3C598.5,336.4 599.5,328.2 600.6,320.6C601.7,312.9 603.0,305.2 604.3,298.3C605.7,291.4 607.2,284.7 608.8,279.0C610.4,273.3 611.2,268.5 614.0,264.2C616.7,259.9 623.0,255.3 625.2,253.1C627.4,250.8 628.7,248.7 630.4,247.1C632.1,245.5 633.7,244.3 635.6,243.4C637.4,242.5 639.7,241.8 641.5,241.9C643.4,242.1 645.0,242.9 646.7,244.2C648.4,245.4 650.0,247.7 651.9,249.3C653.8,251.0 655.7,252.4 657.8,253.8C659.9,255.2 662.3,256.3 664.5,257.5C666.7,258.7 669.1,259.6 671.2,261.2C673.3,262.8 675.3,265.0 677.1,267.2C679.0,269.3 680.6,271.8 682.3,273.8C684.0,275.8 685.8,277.5 687.5,279.0C689.2,280.5 691.1,281.0 692.7,282.7C694.3,284.5 695.8,286.6 697.2,289.4C698.5,292.3 699.6,295.8 700.9,299.8C702.1,303.7 703.2,308.2 704.6,313.1C705.9,318.1 707.7,324.3 709.0,329.5C710.4,334.7 711.6,339.6 712.7,344.3C713.8,349.0 714.7,353.5 715.7,357.7C716.7,361.9 717.7,366.5 718.7,369.5C719.6,372.6 720.5,375.0 721.6,376.9C722.7,378.9 724.0,380.2 725.3,381.4C726.7,382.6 729.1,383.9 729.8,384.4C730.5,384.9 731.0,385.1 731.5,385.7C732.0,386.3 732.4,387.0 732.9,387.9C733.4,388.8 733.9,389.9 734.4,391.2C734.9,392.5 735.3,394.2 735.7,395.6C736.1,397.1 736.4,398.2 736.8,400.0C737.1,401.8 737.5,404.6 737.9,406.6C738.3,408.7 738.7,410.8 739.0,412.1C739.3,413.5 739.8,414.6 740.1,415.4C740.4,416.3 740.9,417.4 741.0,417.7C741.1,417.9 741.4,418.1 741.4,418.1C741.4,418.1 741.7,415.2 741.9,413.2C742.1,411.3 742.4,408.1 742.7,405.5C742.9,403.0 743.2,400.9 743.4,397.8C743.6,394.7 743.9,389.0 744.1,384.6C744.4,380.2 744.6,376.2 744.9,371.4C745.1,366.6 745.4,361.1 745.8,356.0C746.1,350.8 746.5,345.7 746.9,340.5C747.3,335.4 747.6,330.3 748.0,325.1C748.4,320.0 749.0,314.5 749.5,309.7C749.9,304.9 750.4,300.7 750.9,296.5C751.5,292.3 752.2,288.2 752.8,284.4C753.4,280.5 754.0,277.0 754.6,273.3C755.2,269.7 755.8,266.2 756.4,262.3C757.1,258.5 757.7,254.4 758.3,250.2C758.9,246.0 759.5,241.8 760.1,237.0C760.7,232.2 761.3,226.5 761.9,221.6C762.6,216.6 763.2,211.7 763.8,207.3C764.4,202.8 765.2,197.8 765.6,195.1C766.0,192.5 766.4,190.5 766.7,188.5C767.1,186.5 767.4,185.0 767.8,183.0C768.3,181.0 768.8,178.6 769.3,176.4C769.8,174.2 770.3,171.6 770.8,169.8C771.2,168.0 771.7,166.9 772.2,165.4C772.7,163.9 773.2,162.3 773.7,161.0C774.2,159.7 774.8,158.6 775.2,157.7C775.6,156.8 776.0,156.4 776.3,155.5C776.6,154.5 777.0,152.8 777.4,151.1C777.8,149.3 779.3,142.6 780.1,139.1C780.8,135.6 781.3,133.8 781.9,130.3C782.5,126.8 783.1,122.0 783.7,118.2C784.3,114.3 785.0,110.5 785.6,107.2C786.2,103.9 786.8,101.2 787.4,98.3C788.0,95.5 788.6,92.4 789.2,90.0C789.9,87.6 790.5,85.9 791.1,84.0C791.7,82.2 792.5,79.9 792.9,79.0C793.4,78.0 794.0,77.4 794.4,76.8C794.8,76.1 795.2,75.9 795.5,75.2C795.8,74.5 796.5,72.7 797.0,71.5C797.4,70.3 797.9,69.3 798.4,67.9C798.9,66.6 799.4,64.9 799.9,63.5C800.4,62.2 800.9,60.6 801.4,59.8C801.8,59.0 802.3,58.5 802.8,58.0C803.3,57.6 803.8,57.5 804.3,57.2C804.8,56.8 805.3,56.4 805.8,56.0C806.3,55.7 806.8,55.4 807.2,54.9C807.7,54.5 808.1,53.9 808.3,53.6C808.6,53.3 809.1,53.0 809.1,53.0C809.1,53.0 809.9,53.4 810.2,53.8C810.5,54.3 810.9,55.3 811.3,56.0C811.7,56.8 812.0,57.7 812.4,58.3C812.8,58.8 813.1,59.2 813.5,59.6C813.9,59.9 814.8,60.5 814.8,60.5C814.8,60.5 815.5,59.5 815.7,58.7C815.9,57.9 816.9,53.8 817.4,51.7C817.9,49.5 818.3,46.7 818.5,45.8C818.8,44.9 819.3,44.4 819.6,43.8C819.9,43.2 820.4,42.1 820.4,42.1C820.4,42.1 820.9,59.4 821.3,70.9C821.6,82.3 822.1,99.2 822.5,112.6C822.9,125.9 823.3,137.9 823.7,151.0C824.1,164.1 824.5,177.4 824.9,191.0C825.3,204.7 825.8,224.8 826.0,232.8C826.2,240.8 826.3,246.1 826.6,252.8C826.8,259.5 827.1,266.9 827.4,272.8C827.7,278.8 828.2,288.7 828.2,288.7C828.2,288.7 829.3,287.3 829.9,287.0C830.6,286.7 832.1,287.0 832.1,287.0C832.1,287.0 833.7,291.0 834.4,293.7C835.1,296.4 836.7,304.1 837.6,308.4C838.4,312.8 838.8,315.9 839.4,319.6C840.1,323.3 840.7,326.6 841.3,330.7C841.9,334.8 842.5,339.7 843.2,344.1C843.8,348.4 844.4,352.7 845.0,357.0C845.6,361.2 846.4,366.5 846.9,369.6C847.4,372.8 847.9,375.6 848.4,377.4C848.8,379.2 849.3,381.2 849.7,381.9C850.0,382.6 851.3,383.0 851.3,383.0C851.3,383.0 852.3,380.2 852.8,378.6C853.3,376.9 853.8,375.2 854.3,373.0C854.8,370.7 855.5,367.1 856.1,364.1C856.8,361.1 857.4,358.0 858.0,355.2C858.6,352.4 859.2,350.0 859.9,347.4C860.5,344.8 861.1,342.0 861.7,339.6C862.3,337.2 862.9,335.0 863.6,332.9C864.2,330.9 864.8,329.2 865.4,327.4C866.0,325.5 866.7,323.5 867.3,321.8C867.9,320.1 868.5,318.5 869.1,316.9C869.8,315.3 870.4,313.9 871.0,312.4C871.6,311.0 872.2,309.3 872.8,308.0C873.5,306.7 874.0,305.9 874.7,304.4C875.4,303.0 876.6,300.3 877.1,299.3C877.6,298.2 877.8,297.4 878.2,296.5C878.7,295.7 879.2,295.0 879.8,294.2C880.3,293.5 881.0,292.8 881.7,292.0C882.3,291.1 883.0,289.7 883.6,289.0C884.2,288.4 884.8,288.3 885.5,287.9C886.1,287.5 886.6,287.2 887.4,286.7C888.1,286.3 889.1,285.3 890.0,284.9C890.9,284.6 891.7,284.6 892.7,284.7C893.6,284.7 894.8,284.8 895.7,285.1C896.6,285.5 897.2,286.1 898.0,286.7C898.7,287.4 899.5,288.4 900.3,289.0C901.0,289.7 901.8,290.0 902.5,290.6C903.3,291.2 904.1,292.0 904.8,292.4C905.6,292.8 906.3,293.0 907.1,292.9C907.9,292.8 908.7,292.5 909.4,292.0C910.1,291.4 910.6,290.7 911.3,289.7C911.9,288.7 912.5,287.3 913.2,286.1C913.8,284.8 914.4,283.6 915.1,282.2C915.7,280.8 916.3,279.0 917.0,277.6C917.7,276.2 918.5,274.9 919.2,273.8C920.0,272.7 920.8,271.8 921.5,271.0C922.2,270.3 922.8,269.6 923.4,269.2C924.0,268.8 924.7,269.2 925.1,268.5C925.5,267.9 926.1,264.8 926.9,263.6C927.7,262.4 928.6,262.2 929.8,261.4C931.1,260.6 933.8,258.6 935.8,257.7C937.7,256.7 939.5,256.1 941.7,255.8C943.9,255.4 946.7,255.6 949.1,255.5C951.6,255.3 954.3,254.6 956.5,254.7C958.8,254.8 960.5,255.2 962.5,256.2C964.5,257.2 966.4,259.0 968.4,260.7C970.4,262.3 972.4,263.5 974.3,265.8C976.3,268.2 978.3,271.3 980.3,274.7C982.3,278.2 984.2,282.7 986.2,286.6C988.2,290.6 990.3,295.0 992.2,298.5C994.0,301.9 996.0,305.4 997.3,307.4C998.7,309.4 1000.4,311.5 1001.1,312.1C1001.7,312.7 1003.3,312.6 1003.3,312.6C1003.3,312.6 1005.2,309.6 1006.2,307.4C1007.3,305.2 1008.7,301.9 1010.0,298.5C1011.2,295.0 1012.2,290.8 1013.7,286.6C1015.1,282.4 1017.0,277.7 1018.9,273.3C1020.7,268.8 1022.8,264.0 1024.8,259.9C1026.8,255.8 1028.7,252.0 1030.7,248.8C1032.7,245.6 1034.7,243.0 1036.7,240.6C1038.6,238.3 1040.6,236.4 1042.6,234.7C1044.6,233.0 1046.4,231.5 1048.5,230.2C1050.6,229.0 1053.0,228.0 1055.2,227.3C1057.4,226.5 1059.8,226.2 1061.9,225.8C1064.0,225.4 1066.2,225.5 1067.8,225.0C1069.4,224.5 1070.4,223.6 1071.5,222.8C1072.6,222.0 1074.5,220.1 1074.5,220.1C1074.5,220.1 1076.2,221.0 1076.7,222.1C1077.2,223.1 1078.3,226.5 1078.9,229.5C1079.6,232.5 1080.4,237.5 1081.2,242.1C1081.9,246.7 1082.9,254.3 1083.4,256.9C1083.9,259.6 1085.0,260.7 1085.5,263.3C1086.0,266.0 1088.1,279.8 1089.4,288.5C1090.8,297.2 1092.1,306.1 1093.4,315.3C1094.7,324.4 1096.0,334.4 1097.3,343.6C1098.6,352.8 1099.9,362.7 1101.2,370.3C1102.6,378.0 1103.9,384.1 1105.2,389.2C1106.5,394.4 1108.2,399.5 1109.1,401.8C1110.0,404.2 1112.3,407.3 1112.3,407.3C1112.3,407.3 1114.5,404.2 1115.4,401.8C1116.3,399.5 1117.9,394.0 1119.3,389.2C1120.8,384.5 1122.5,379.8 1124.1,373.5C1125.6,367.2 1127.3,359.9 1128.8,351.5C1130.2,343.1 1131.5,333.1 1132.7,323.1C1133.9,313.2 1135.0,302.1 1135.9,291.7C1136.8,281.2 1137.5,270.7 1138.2,260.2C1138.9,249.7 1139.6,239.2 1140.1,228.7C1140.6,218.2 1141.0,207.6 1141.4,197.2C1141.8,186.9 1142.5,167.7 1142.6,166.5C1142.7,165.4 1144.2,164.2 1144.2,164.2C1144.2,164.2 1145.3,169.8 1145.8,173.6C1146.2,177.4 1146.8,187.5 1147.7,194.1C1148.5,200.6 1149.6,206.7 1150.8,213.0C1152.0,219.3 1153.2,226.1 1154.8,231.8C1156.3,237.6 1159.0,245.4 1160.3,247.6C1161.5,249.8 1163.9,249.6 1165.8,250.7C1167.6,251.9 1169.7,253.4 1171.3,254.7C1172.9,256.0 1174.4,256.5 1175.2,258.6C1176.1,260.7 1176.9,265.2 1177.6,269.6C1178.3,274.1 1179.2,282.2 1179.9,288.5C1180.7,294.8 1181.5,302.3 1182.3,307.4C1183.1,312.5 1184.0,317.8 1184.7,320.0C1185.4,322.1 1187.8,324.7 1187.8,324.7C1187.8,324.7 1189.6,323.0 1190.2,321.6C1190.7,320.1 1191.8,314.7 1192.5,312.1C1193.3,309.6 1194.9,305.9 1194.9,305.9C1194.9,305.9 1196.4,310.2 1197.2,312.5C1197.9,314.9 1198.7,316.9 1199.4,319.9C1200.0,322.9 1201.7,334.1 1201.7,334.1C1201.7,334.1 1203.4,325.7 1204.0,321.5C1204.7,317.3 1205.4,310.1 1205.6,308.9C1205.9,307.7 1207.1,306.2 1207.1,306.2C1207.1,306.2 1209.0,308.8 1209.8,310.7C1210.6,312.7 1212.3,317.1 1213.4,321.5C1214.5,325.9 1215.9,332.6 1217.0,339.5C1218.0,346.4 1218.8,354.5 1219.7,362.9C1220.5,371.3 1221.3,379.4 1222.0,389.9C1222.7,400.4 1223.3,413.9 1223.8,425.9C1224.3,437.8 1224.7,449.8 1225.1,461.8C1225.4,473.8 1225.8,489.5 1226.0,497.8C1226.2,506.1 1226.5,518.5 1226.5,518.5C1226.5,518.5 1227.2,506.1 1227.4,497.8C1227.7,489.5 1228.0,473.8 1228.3,461.8C1228.6,449.8 1228.9,437.8 1229.2,425.9C1229.6,413.9 1230.0,398.5 1230.5,389.9C1230.9,381.2 1231.5,374.9 1232.3,368.3C1233.0,361.7 1233.9,355.7 1235.0,350.3C1236.0,344.9 1237.4,340.0 1238.6,335.9C1239.8,331.9 1241.7,327.1 1242.2,326.0C1242.6,324.9 1244.0,323.7 1244.0,323.7C1244.0,323.7 1245.7,326.6 1246.1,328.7C1246.5,330.9 1247.7,339.5 1248.5,346.7C1249.2,353.9 1250.1,364.1 1250.8,371.9C1251.5,379.7 1252.1,388.4 1252.6,393.5C1253.1,398.5 1254.2,406.1 1254.2,406.1C1254.2,406.1 1255.3,396.4 1255.7,389.9C1256.1,383.4 1256.8,365.9 1257.5,353.9C1258.1,341.9 1259.1,328.0 1259.8,317.9C1260.5,307.8 1261.2,299.3 1262.0,292.7C1262.7,286.2 1263.8,280.6 1264.6,276.6C1265.5,272.5 1267.3,266.7 1267.3,266.7C1267.3,266.7 1269.6,267.9 1270.0,269.4C1270.5,270.8 1271.2,277.8 1271.8,282.0C1272.4,286.1 1273.5,293.8 1273.6,294.5C1273.8,295.3 1274.5,296.3 1274.5,296.3C1274.5,296.3 1275.4,289.7 1276.0,285.5C1276.6,281.4 1277.5,274.2 1278.1,271.2C1278.8,268.2 1280.2,264.9 1280.8,264.0C1281.5,263.0 1282.5,263.2 1283.5,263.1C1284.6,262.9 1286.1,263.2 1287.1,263.1C1288.2,262.9 1289.8,262.2 1289.8,262.2C1289.8,262.2 1292.2,263.6 1293.4,264.9C1294.7,266.1 1296.3,268.2 1297.9,270.3C1299.6,272.4 1301.5,274.8 1303.3,277.5C1305.1,280.2 1307.2,283.6 1308.7,286.4C1310.2,289.3 1311.8,293.2 1312.4,294.5" fill="none" stroke="#00B050" stroke-width="3.5" stroke-linejoin="round" stroke-linecap="butt"/>
<path d="M150.6,361.3C151.4,360.4 153.6,357.5 155.6,356.4C157.5,355.2 160.0,354.5 162.2,354.1C164.5,353.8 166.7,353.8 168.9,354.1C171.1,354.5 173.4,355.1 175.6,356.4C177.8,357.6 180.0,359.4 182.3,361.7C184.5,364.0 186.7,367.1 188.9,370.2C191.2,373.2 193.4,377.2 195.6,380.2C197.9,383.1 200.1,386.1 202.3,388.0C204.5,389.8 206.9,390.7 209.0,391.3C211.0,391.9 212.7,391.9 214.5,391.3C216.4,390.7 218.1,389.2 220.1,387.5C222.1,385.8 224.4,383.1 226.8,381.3C229.2,379.4 231.8,377.7 234.6,376.4C237.4,375.1 240.1,374.1 243.5,373.5C246.8,372.9 250.9,372.9 254.6,372.8C258.3,372.7 262.0,373.3 265.7,372.8C269.4,372.3 273.2,371.0 276.9,369.7C280.6,368.4 284.7,366.3 288.0,365.3C291.3,364.2 293.9,363.6 296.9,363.5C299.9,363.4 303.0,363.7 305.8,364.6C308.6,365.5 311.2,367.2 313.6,369.0C316.0,370.9 317.9,373.5 320.3,375.7C322.7,377.9 325.5,380.9 328.1,382.4C330.7,383.9 333.4,384.9 335.8,384.6C338.3,384.4 340.4,383.1 342.5,380.8C344.6,378.6 347.0,374.2 349.2,370.2C351.4,366.1 353.7,360.7 355.9,356.8C358.1,352.9 360.1,349.5 362.6,346.8C365.0,344.1 367.6,342.1 370.3,340.8C373.1,339.4 376.6,338.7 379.2,338.6C381.8,338.4 383.7,338.9 385.9,340.1C388.1,341.3 390.6,343.1 392.6,345.7C394.6,348.3 396.4,351.5 398.2,355.7C399.9,359.9 402.1,365.9 403.7,372.4C405.4,378.9 406.7,386.5 408.2,394.6C409.7,402.8 411.2,413.2 412.6,421.3C414.0,429.5 415.9,440.7 416.6,443.6C417.3,446.5 419.8,450.3 419.8,450.3C419.8,450.3 422.0,445.1 422.6,441.4C423.3,437.7 424.5,426.7 426.0,416.9C427.5,407.1 435.8,353.3 436.7,348.8C437.6,344.2 440.0,341.1 441.9,338.4C443.7,335.6 445.8,333.9 447.8,332.4C449.8,331.0 451.8,330.3 453.7,329.8C455.7,329.3 457.7,329.1 459.7,329.5C461.7,329.8 463.6,330.3 465.6,331.7C467.6,333.1 469.6,335.4 471.5,337.6C473.5,339.9 475.5,342.6 477.5,345.0C479.5,347.5 481.6,350.2 483.4,352.5C485.3,354.7 486.9,357.0 488.6,358.4C490.3,359.8 492.1,360.3 493.8,360.6C495.5,360.9 497.1,360.9 499.0,360.3C500.8,359.8 502.8,358.5 504.9,357.4C507.0,356.2 509.5,354.2 511.6,353.2C513.7,352.2 515.6,351.5 517.5,351.4C519.5,351.3 521.6,351.5 523.5,352.5C525.3,353.4 526.9,354.8 528.7,356.9C530.4,359.0 532.3,362.0 533.9,365.1C535.5,368.2 536.8,371.5 538.3,375.5C539.8,379.4 541.4,384.4 542.8,388.8C544.1,393.3 545.2,398.1 546.5,402.2C547.7,406.2 549.5,411.6 550.2,413.3C550.9,415.0 552.8,417.0 552.8,417.0C552.8,417.0 554.8,415.0 555.4,413.3C555.9,411.6 557.3,405.5 558.3,400.7C559.3,395.9 560.3,389.8 561.3,384.4C562.3,378.9 563.2,373.2 564.3,368.0C565.4,362.8 566.6,357.7 568.0,353.2C569.3,348.8 570.7,344.8 572.4,341.3C574.2,337.9 576.1,335.0 578.4,332.4C580.6,329.8 583.3,327.5 585.8,325.8C588.3,324.0 591.0,323.0 593.2,322.0C595.4,321.1 597.2,321.1 599.1,319.8C601.1,318.6 603.1,317.0 605.1,314.6C607.1,312.3 609.0,309.4 611.0,305.7C613.0,302.0 614.8,297.3 616.9,292.4C619.1,287.4 621.8,280.8 623.7,276.1C625.6,271.4 626.6,267.8 628.2,264.2C629.8,260.6 631.5,257.1 633.4,254.5C635.2,251.9 637.1,250.0 639.3,248.6C641.5,247.2 644.2,246.7 646.7,246.4C649.2,246.1 651.9,246.2 654.1,246.7C656.4,247.2 658.3,248.2 660.1,249.3C661.8,250.5 663.0,251.8 664.5,253.8C666.0,255.8 667.5,258.4 669.0,261.2C670.4,264.1 671.9,267.2 673.4,270.9C674.9,274.6 676.4,279.1 677.9,283.5C679.3,287.8 680.8,292.1 682.3,296.8C683.8,301.5 685.3,306.7 686.8,311.7C688.2,316.6 689.9,321.3 691.2,326.5C692.6,331.7 693.8,337.1 694.9,342.8C696.0,348.5 697.0,354.9 697.9,360.6C698.8,366.3 699.7,374.0 700.1,376.9C700.6,379.9 701.0,383.0 701.6,384.4C702.2,385.7 704.6,386.6 704.6,386.6C704.6,386.6 707.5,384.1 709.0,382.9C710.5,381.6 712.1,379.9 713.5,379.2C714.8,378.4 715.9,378.1 717.2,378.4C718.4,378.8 719.8,379.8 720.9,381.4C722.0,382.9 723.4,385.7 724.6,388.8C725.8,391.9 727.2,397.4 728.3,400.7C729.4,404.0 730.8,406.7 731.5,408.8C732.2,411.0 732.2,412.7 732.6,414.3C732.9,416.0 733.3,417.6 733.7,418.8C734.0,419.9 734.5,421.2 734.8,421.6C735.0,422.0 735.5,422.1 735.9,422.1C736.2,422.1 736.7,422.0 737.0,421.6C737.2,421.2 737.8,419.9 738.1,418.8C738.3,417.6 738.8,414.5 739.2,412.1C739.5,409.8 739.9,407.2 740.3,404.4C740.6,401.7 740.9,399.1 741.4,395.6C741.8,392.1 742.4,387.5 742.8,383.5C743.3,379.5 743.8,375.4 744.3,371.4C744.8,367.3 745.3,362.9 745.8,359.3C746.3,355.6 746.7,352.8 747.3,349.4C747.8,345.9 748.5,342.0 749.1,338.3C749.7,334.7 750.3,331.0 750.9,327.3C751.5,323.7 752.2,320.0 752.8,316.3C753.4,312.6 754.0,309.0 754.6,305.3C755.2,301.6 755.8,297.9 756.4,294.3C757.1,290.6 757.7,287.3 758.3,283.3C758.9,279.2 759.5,274.3 760.1,270.0C760.7,265.8 761.3,262.1 761.9,257.9C762.6,253.7 763.2,248.9 763.8,244.7C764.4,240.5 765.0,236.6 765.6,232.6C766.2,228.5 766.9,224.1 767.5,220.5C768.0,216.8 768.4,214.0 768.9,210.6C769.4,207.1 769.9,203.0 770.4,199.5C770.9,196.1 771.4,192.6 771.9,189.6C772.4,186.7 772.8,184.3 773.3,181.9C773.8,179.5 774.3,177.7 774.8,175.3C775.4,172.9 775.8,170.7 776.6,167.6C777.5,164.5 779.3,158.3 780.1,155.6C780.8,153.0 781.3,151.2 781.9,149.0C782.5,146.8 783.1,145.0 783.7,142.4C784.3,139.8 785.0,136.6 785.6,133.6C786.2,130.6 786.8,127.4 787.4,124.3C788.0,121.3 788.6,118.4 789.2,115.5C789.9,112.7 790.5,109.8 791.1,107.2C791.7,104.5 792.4,102.0 792.9,99.5C793.5,96.9 793.9,94.1 794.4,91.7C794.9,89.4 795.4,87.4 795.9,85.6C796.3,83.7 796.8,82.1 797.3,80.7C797.9,79.4 798.6,78.2 799.2,77.4C799.8,76.6 800.4,76.0 801.0,75.7C801.6,75.3 802.2,75.1 802.8,75.2C803.4,75.3 804.1,75.8 804.7,76.3C805.2,76.9 805.7,77.6 806.1,78.5C806.6,79.5 807.1,81.0 807.6,82.5C808.1,84.0 808.6,85.7 809.1,87.3C809.6,88.9 810.1,90.7 810.6,92.2C811.0,93.6 811.5,95.0 812.0,96.1C812.5,97.2 813.0,98.1 813.5,98.8C814.0,99.5 814.1,100.3 815.0,100.6C815.8,100.8 817.9,100.8 818.8,100.6C819.6,100.4 820.0,99.9 820.4,99.2C820.9,98.5 821.6,97.3 822.1,95.9C822.7,94.5 823.1,92.8 823.8,90.9C824.4,88.9 825.3,86.6 826.0,84.2C826.8,81.8 827.8,77.9 828.2,76.7C828.7,75.5 829.3,74.6 829.9,73.9C830.6,73.1 831.4,72.7 832.1,72.2C832.8,71.7 834.1,70.9 834.1,70.9C834.1,70.9 834.8,73.3 835.2,75.0C835.6,76.7 836.7,81.7 837.2,84.8C837.7,87.9 838.0,90.7 838.3,93.7C838.7,96.6 839.0,99.4 839.4,102.6C839.9,105.7 840.4,109.4 840.9,112.6C841.4,115.7 841.9,118.7 842.4,121.5C842.9,124.3 843.4,127.0 843.9,129.3C844.4,131.5 844.9,133.1 845.4,134.8C845.9,136.6 846.4,138.3 846.9,139.7C847.4,141.2 847.9,142.5 848.4,143.7C848.8,145.0 849.3,146.2 849.8,147.1C850.3,148.0 850.8,148.7 851.3,149.3C851.8,149.9 852.3,150.4 852.8,150.9C853.3,151.3 853.8,151.8 854.3,152.0C854.8,152.2 855.3,152.4 855.8,152.2C856.3,152.0 856.8,151.3 857.3,150.9C857.8,150.4 858.2,149.8 858.7,149.3C859.2,148.8 859.7,148.5 860.2,147.7C860.7,147.0 861.2,146.0 861.7,144.9C862.2,143.7 862.7,142.6 863.2,141.1C863.7,139.6 864.2,137.7 864.7,136.0C865.2,134.2 865.7,132.1 866.2,130.4C866.6,128.6 866.9,127.3 867.3,125.5C867.6,123.6 868.0,121.1 868.4,119.3C868.8,117.4 869.1,115.8 869.5,114.4C869.9,112.9 870.3,111.3 870.6,110.4C871.0,109.4 871.4,108.9 871.7,108.1C872.1,107.4 872.5,106.6 872.8,105.9C873.2,105.2 873.6,104.6 874.0,103.7C874.3,102.8 874.7,101.7 875.1,100.3C875.5,99.0 876.6,94.8 877.1,93.2C877.6,91.7 878.6,89.4 878.6,89.4C878.6,89.4 878.9,94.5 879.2,97.8C879.5,101.1 879.8,105.2 880.1,109.2C880.5,113.2 880.9,117.7 881.3,121.7C881.7,125.7 882.0,129.7 882.4,133.1C882.8,136.5 883.2,139.3 883.6,142.2C884.0,145.0 884.4,147.9 884.9,150.1C885.3,152.4 885.7,153.9 886.2,155.8C886.7,157.7 887.2,159.8 887.7,161.5C888.2,163.2 888.8,164.9 889.3,166.1C889.8,167.3 890.3,168.3 890.8,169.0C891.3,169.8 891.8,170.1 892.3,170.6C892.8,171.2 893.2,172.0 893.8,172.2C894.4,172.5 895.1,172.4 895.7,172.2C896.3,172.0 897.0,171.5 897.6,171.1C898.2,170.7 898.9,170.3 899.5,170.0C900.1,169.6 900.8,169.3 901.4,168.8C902.0,168.3 902.7,167.4 903.3,166.8C903.9,166.1 904.4,165.4 904.8,164.9C905.2,164.5 905.5,164.4 905.8,163.8C906.0,163.3 906.4,161.7 906.7,160.4C907.1,159.1 907.5,157.7 907.9,155.8C908.2,154.0 908.5,151.7 908.8,149.0C909.1,146.4 909.5,142.9 909.8,139.9C910.0,136.9 910.3,133.6 910.5,130.8C910.7,128.0 911.0,123.5 911.1,122.8C911.1,122.2 911.4,121.2 911.4,121.2C911.4,121.2 911.8,122.9 912.0,124.0C912.3,125.0 912.5,126.1 912.8,127.4C913.0,128.7 913.3,130.1 913.5,131.9C913.8,133.8 914.3,140.3 914.7,144.5C915.1,148.6 915.4,152.8 915.8,157.0C916.2,161.2 916.6,165.3 917.0,169.5C917.3,173.7 917.7,177.8 918.1,182.0C918.5,186.2 918.9,190.6 919.2,194.5C919.6,198.5 920.0,202.3 920.4,205.9C920.8,209.5 921.1,212.9 921.5,216.2C921.9,219.4 922.2,222.2 922.7,225.3C923.1,228.3 923.6,231.5 924.0,234.4C924.4,237.2 924.8,239.1 925.1,242.3C925.5,245.5 926.1,255.4 926.9,259.9C927.6,264.5 928.6,267.6 929.8,271.0C931.1,274.5 932.7,277.8 934.3,280.7C935.9,283.5 938.0,286.0 939.5,288.1C941.0,290.2 942.4,292.3 943.2,293.3C944.0,294.3 945.4,295.5 945.4,295.5C945.4,295.5 947.4,293.9 948.4,292.6C949.4,291.2 950.7,288.3 952.1,286.6C953.5,284.9 954.9,283.2 956.5,282.2C958.2,281.2 960.0,280.9 961.7,280.7C963.5,280.5 965.2,280.6 966.9,281.0C968.7,281.4 970.4,281.8 972.1,282.9C973.9,284.0 975.5,285.3 977.3,287.4C979.1,289.4 981.3,292.7 983.2,295.5C985.2,298.4 987.2,301.7 989.2,304.4C991.2,307.1 993.5,309.9 995.1,311.8C996.8,313.7 998.3,315.3 999.6,316.3C1000.9,317.3 1002.0,317.9 1003.3,318.1C1004.5,318.2 1005.9,318.1 1007.0,317.0C1008.1,315.9 1009.5,313.0 1010.7,310.4C1011.9,307.8 1013.0,304.7 1014.4,301.5C1015.8,298.2 1017.1,295.0 1018.9,291.1C1020.6,287.1 1022.8,281.7 1024.8,277.7C1026.8,273.8 1028.7,270.5 1030.7,267.3C1032.7,264.1 1034.7,261.3 1036.7,258.4C1038.6,255.6 1040.6,252.7 1042.6,250.3C1044.6,247.8 1046.6,245.6 1048.5,243.6C1050.5,241.6 1052.5,239.9 1054.5,238.4C1056.4,236.9 1058.4,236.0 1060.4,234.7C1062.4,233.3 1064.6,231.6 1066.3,230.2C1068.1,228.9 1069.5,227.6 1070.8,226.5C1072.0,225.4 1073.3,223.9 1073.8,223.6C1074.2,223.2 1074.9,222.8 1074.9,222.8C1074.9,222.8 1076.5,224.5 1077.5,225.8C1078.4,227.0 1079.6,228.3 1080.4,230.2C1081.2,232.2 1082.7,237.2 1083.4,240.6C1084.1,244.0 1084.1,246.7 1084.7,250.7C1085.3,254.8 1086.7,262.8 1087.9,269.6C1089.1,276.4 1090.5,284.6 1091.8,291.7C1093.1,298.7 1094.4,305.6 1095.7,312.1C1097.1,318.7 1098.4,325.2 1099.7,331.0C1101.0,336.8 1102.3,342.3 1103.6,346.7C1104.9,351.2 1106.3,355.1 1107.5,357.8C1108.8,360.5 1110.3,363.0 1111.5,364.1C1112.7,365.1 1115.4,364.8 1115.4,364.8C1115.4,364.8 1118.3,362.9 1119.3,360.9C1120.4,358.9 1122.0,354.3 1123.3,349.9C1124.6,345.4 1125.9,340.2 1127.2,334.1C1128.5,328.1 1129.8,321.3 1131.2,313.7C1132.5,306.1 1133.9,297.4 1135.1,288.5C1136.3,279.6 1137.3,270.1 1138.2,260.2C1139.2,250.2 1139.9,239.2 1140.6,228.7C1141.3,218.2 1142.0,206.9 1142.6,197.2C1143.3,187.5 1144.3,173.0 1144.5,170.5C1144.8,167.9 1145.8,164.2 1145.8,164.2C1145.8,164.2 1146.8,174.7 1147.4,181.5C1147.9,188.3 1148.5,197.7 1149.3,205.1C1150.0,212.4 1150.7,219.5 1151.6,225.5C1152.5,231.6 1153.7,236.8 1154.8,241.3C1155.8,245.7 1156.9,250.1 1157.9,252.3C1158.9,254.5 1160.1,255.7 1161.8,257.0C1163.5,258.3 1166.0,259.3 1168.1,260.2C1170.2,261.0 1172.9,261.6 1174.4,262.1C1176.0,262.5 1178.4,263.3 1178.4,263.3C1178.4,263.3 1180.0,268.9 1180.7,272.8C1181.4,276.6 1182.3,282.7 1183.1,288.5C1183.9,294.3 1184.7,301.6 1185.5,307.4C1186.2,313.2 1187.3,320.5 1187.8,323.1C1188.3,325.7 1189.9,329.4 1189.9,329.4C1189.9,329.4 1191.3,325.7 1191.7,323.1C1192.2,320.5 1194.1,307.4 1194.1,307.4C1194.1,307.4 1192.7,314.3 1192.7,314.3C1192.7,314.3 1194.6,301.8 1195.4,298.1C1196.2,294.5 1197.5,290.5 1198.1,289.1C1198.7,287.8 1200.8,286.4 1200.8,286.4C1200.8,286.4 1202.8,287.8 1203.5,289.1C1204.2,290.5 1205.9,294.8 1207.1,298.1C1208.3,301.4 1209.5,305.0 1210.7,308.9C1211.9,312.8 1213.2,317.0 1214.3,321.5C1215.3,326.0 1216.1,330.5 1217.0,335.9C1217.9,341.3 1218.8,347.3 1219.7,353.9C1220.5,360.5 1221.3,368.0 1222.0,375.5C1222.8,383.0 1223.5,392.0 1224.2,398.9C1224.8,405.8 1225.7,414.7 1226.0,416.9C1226.2,419.0 1226.9,422.3 1226.9,422.3C1226.9,422.3 1227.7,415.8 1228.1,411.5C1228.5,407.1 1229.2,396.5 1229.9,389.9C1230.6,383.3 1231.4,377.0 1232.3,371.9C1233.1,366.8 1233.9,363.2 1235.0,359.3C1236.0,355.4 1237.4,351.2 1238.6,348.5C1239.7,345.8 1241.5,343.1 1242.2,342.2C1242.8,341.3 1244.3,340.4 1244.3,340.4C1244.3,340.4 1246.1,343.0 1246.7,344.9C1247.2,346.9 1248.2,353.0 1249.0,357.5C1249.7,362.0 1250.8,369.7 1251.2,371.9C1251.5,374.1 1252.1,377.3 1252.1,377.3C1252.1,377.3 1253.0,371.9 1253.3,368.3C1253.7,364.7 1254.4,355.1 1255.1,346.7C1255.8,338.3 1256.6,327.2 1257.5,317.9C1258.3,308.6 1259.3,298.7 1260.2,290.9C1261.1,283.1 1262.1,275.5 1262.8,271.2C1263.6,266.8 1265.0,261.8 1265.5,260.4C1266.1,258.9 1267.7,257.1 1267.7,257.1C1267.7,257.1 1269.6,259.4 1270.0,261.3C1270.5,263.1 1271.2,269.5 1271.8,274.8C1272.4,280.0 1273.0,287.3 1273.6,292.7C1274.2,298.1 1275.4,307.1 1275.4,307.1C1275.4,307.1 1276.1,305.0 1276.3,303.5C1276.5,302.1 1277.2,293.5 1277.8,289.1C1278.4,284.8 1279.4,279.2 1279.9,277.5C1280.5,275.7 1281.6,274.5 1282.6,273.9C1283.7,273.2 1285.0,273.3 1286.2,273.3C1287.4,273.3 1288.6,273.3 1289.8,273.9C1291.0,274.4 1292.2,275.2 1293.4,276.6C1294.6,277.9 1296.3,280.6 1297.9,282.8C1299.6,285.1 1301.5,287.5 1303.3,290.0C1305.1,292.6 1307.3,296.0 1308.7,298.1C1310.2,300.3 1311.8,302.6 1312.4,303.5" fill="none" stroke="#FFC000" stroke-width="3.5" stroke-linejoin="round" stroke-linecap="butt"/>
<rect x="475.6" y="455.0" width="732.4" height="207.2" fill="#fff" stroke="#000" stroke-width="5.8" stroke-linejoin="round"/>
<path d="M508.7,481.9H557.0" stroke="#4472C4" stroke-width="2.9" stroke-linecap="round"/>
<text x="562.9" y="489.8" font-family='"Liberation Sans", "DejaVu Sans", sans-serif' font-size="25.2" font-weight="bold" text-anchor="start" textLength="207.6" lengthAdjust="spacingAndGlyphs">Propagation free</text>
<path d="M508.7,533.0H557.0" stroke="#FF0000" stroke-width="2.9" stroke-linecap="round"/>
<text x="562.9" y="540.9" font-family='"Liberation Sans", "DejaVu Sans", sans-serif' font-size="25.2" font-weight="bold" text-anchor="start" textLength="288.3" lengthAdjust="spacingAndGlyphs">A uniform Au electrode</text>
<path d="M508.7,584.9H557.0" stroke="#00B050" stroke-width="2.9" stroke-linecap="round"/>
<text x="562.9" y="592.8" font-family='"Liberation Sans", "DejaVu Sans", sans-serif' font-size="25.2" font-weight="bold" text-anchor="start" textLength="606.2" lengthAdjust="spacingAndGlyphs">Periodic floating electrodes with equipotentiality</text>
<path d="M508.7,635.9H557.0" stroke="#FFC000" stroke-width="2.9" stroke-linecap="round"/>
<text x="562.9" y="643.8" font-family='"Liberation Sans", "DejaVu Sans", sans-serif' font-size="25.2" font-weight="bold" text-anchor="start" textLength="337.2" lengthAdjust="spacingAndGlyphs">Periodic floating electrodes</text>
<text x="104.1" y="27.1" font-family='"Liberation Sans", "DejaVu Sans", sans-serif' font-size="35.3" font-weight="bold" text-anchor="end">0</text>
<text x="113.5" y="94.5" font-family='"Liberation Sans", "DejaVu Sans", sans-serif' font-size="35.3" font-weight="bold" text-anchor="end">10</text>
<text x="113.5" y="162.0" font-family='"Liberation Sans", "DejaVu Sans", sans-serif' font-size="35.3" font-weight="bold" text-anchor="end">20</text>
<text x="113.5" y="229.4" font-family='"Liberation Sans", "DejaVu Sans", sans-serif' font-size="35.3" font-weight="bold" text-anchor="end">30</text>
<text x="113.5" y="296.9" font-family='"Liberation Sans", "DejaVu Sans", sans-serif' font-size="35.3" font-weight="bold" text-anchor="end">40</text>
<text x="113.5" y="364.4" font-family='"Liberation Sans", "DejaVu Sans", sans-serif' font-size="35.3" font-weight="bold" text-anchor="end">50</text>
<text x="113.5" y="431.8" font-family='"Liberation Sans", "DejaVu Sans", sans-serif' font-size="35.3" font-weight="bold" text-anchor="end">60</text>
<text x="113.5" y="499.2" font-family='"Liberation Sans", "DejaVu Sans", sans-serif' font-size="35.3" font-weight="bold" text-anchor="end">70</text>
<text x="113.5" y="566.7" font-family='"Liberation Sans", "DejaVu Sans", sans-serif' font-size="35.3" font-weight="bold" text-anchor="end">80</text>
<text x="113.5" y="634.1" font-family='"Liberation Sans", "DejaVu Sans", sans-serif' font-size="35.3" font-weight="bold" text-anchor="end">90</text>
<text x="113.5" y="701.6" font-family='"Liberation Sans", "DejaVu Sans", sans-serif' font-size="35.3" font-weight="bold" text-anchor="end">100</text>
<text x="150.6" y="753.3" font-family='"Liberation Sans", "DejaVu Sans", sans-serif' font-size="35.5" font-weight="bold" text-anchor="middle">300</text>
<text x="344.2" y="753.3" font-family='"Liberation Sans", "DejaVu Sans", sans-serif' font-size="35.5" font-weight="bold" text-anchor="middle">400</text>
<text x="537.9" y="753.3" font-family='"Liberation Sans", "DejaVu Sans", sans-serif' font-size="35.5" font-weight="bold" text-anchor="middle">500</text>
<text x="731.5" y="753.3" font-family='"Liberation Sans", "DejaVu Sans", sans-serif' font-size="35.5" font-weight="bold" text-anchor="middle">600</text>
<text x="925.1" y="753.3" font-family='"Liberation Sans", "DejaVu Sans", sans-serif' font-size="35.5" font-weight="bold" text-anchor="middle">700</text>
<text x="1118.8" y="753.3" font-family='"Liberation Sans", "DejaVu Sans", sans-serif' font-size="35.5" font-weight="bold" text-anchor="middle">800</text>
<text x="1312.4" y="753.3" font-family='"Liberation Sans", "DejaVu Sans", sans-serif' font-size="35.5" font-weight="bold" text-anchor="middle">900</text>
<text x="730.7" y="808.3" font-family='"Liberation Sans", "DejaVu Sans", sans-serif' font-size="33.2" font-weight="bold" text-anchor="middle" textLength="272.0" lengthAdjust="spacingAndGlyphs">Frequency[MHz]</text>
<g transform="translate(35.4,353.6) rotate(-90)"><text x="0.0" y="0.0" font-family='"Liberation Sans", "DejaVu Sans", sans-serif' font-size="34.3" font-weight="bold" text-anchor="middle" textLength="293.6" lengthAdjust="spacingAndGlyphs">Insertion Loss[dB]</text></g>
<path d="M144.7,970.7H1317.8M144.7,1038.9H1317.8M144.7,1107.0H1317.8M144.7,1175.2H1317.8M144.7,1243.3H1317.8M144.7,1311.4H1317.8M144.7,1379.6H1317.8M144.7,1447.7H1317.8M144.7,1515.9H1317.8" fill="none" stroke="#000" stroke-width="2.4" stroke-dasharray="9.7 7.1" stroke-dashoffset="-0.75"/>
<path d="M379.3,902.6V1584.0M614.0,902.6V1584.0M848.6,902.6V1584.0M1083.2,902.6V1584.0" fill="none" stroke="#000" stroke-width="2.0" stroke-dasharray="9.4 7.42" stroke-dashoffset="-0.7"/>
<rect x="144.7" y="902.6" width="1173.1" height="681.4" fill="none" stroke="#000" stroke-width="5.9" stroke-linejoin="round"/>
<path d="M144.7,1279.3C146.1,1279.9 150.4,1281.5 153.4,1282.7C156.3,1283.8 159.3,1285.0 162.3,1286.0C165.2,1287.0 168.6,1288.1 171.2,1288.7C173.8,1289.2 176.0,1289.3 177.8,1289.3C179.6,1289.3 180.8,1289.0 182.3,1288.7C183.8,1288.3 185.1,1287.8 186.7,1287.1C188.4,1286.4 190.3,1285.9 192.3,1284.4C194.3,1283.0 196.6,1280.5 199.0,1278.2C201.4,1275.9 204.0,1273.8 206.8,1270.4C209.6,1267.1 212.5,1262.4 215.7,1258.2C218.8,1253.9 222.4,1248.9 225.7,1244.8C229.0,1240.7 232.2,1237.4 235.7,1233.7C239.2,1230.0 243.1,1226.3 246.8,1222.6C250.5,1218.9 254.3,1215.1 258.0,1211.4C261.7,1207.7 265.4,1204.0 269.1,1200.3C272.8,1196.6 276.5,1192.7 280.2,1189.2C283.9,1185.7 287.6,1182.5 291.3,1179.2C295.1,1175.8 298.8,1172.5 302.5,1169.2C306.2,1165.8 309.9,1162.5 313.6,1159.1C317.3,1155.8 321.0,1152.5 324.7,1149.1C328.4,1145.8 332.5,1142.1 335.9,1139.1C339.2,1136.1 341.8,1133.7 344.8,1131.3C347.7,1128.9 350.7,1126.9 353.7,1124.6C356.6,1122.4 359.6,1120.4 362.6,1118.0C365.5,1115.6 368.5,1112.6 371.5,1110.2C374.4,1107.8 377.0,1105.7 380.4,1103.5C383.7,1101.3 387.8,1099.0 391.5,1096.8C395.2,1094.6 398.9,1092.2 402.6,1090.1C406.3,1088.1 410.0,1086.6 413.8,1084.6C417.5,1082.5 420.7,1080.7 424.9,1077.9C429.1,1075.1 434.7,1071.0 438.9,1068.0C443.1,1065.1 446.3,1062.7 450.0,1060.2C453.7,1057.8 457.5,1056.4 461.2,1053.6C464.9,1050.8 468.6,1046.7 472.3,1043.6C476.0,1040.4 479.7,1037.8 483.4,1034.7C487.1,1031.5 490.8,1027.8 494.5,1024.6C498.3,1021.5 502.0,1018.6 505.7,1015.7C509.4,1012.8 513.5,1009.7 516.8,1007.3C520.1,1004.9 522.7,1003.2 525.7,1001.3C528.7,999.3 531.6,997.3 534.6,995.7C537.6,994.1 540.2,992.9 543.5,991.7C546.8,990.5 550.9,989.3 554.6,988.6C558.3,987.8 562.1,987.5 565.8,987.2C569.5,987.0 575.0,986.6 576.9,986.8C578.8,987.0 579.6,987.7 581.3,988.6C583.1,989.4 586.9,991.9 590.2,993.5C593.6,995.0 597.7,996.4 601.4,997.9C605.1,999.4 608.8,1000.7 612.5,1002.4C616.2,1004.1 619.9,1006.3 623.6,1007.9C627.3,1009.6 631.1,1010.9 634.8,1012.4C638.5,1013.9 642.2,1015.4 645.9,1016.8C649.6,1018.3 652.7,1019.8 657.0,1021.3C661.3,1022.8 667.4,1024.6 671.8,1025.6C676.2,1026.6 679.4,1026.6 683.6,1027.3C687.8,1028.0 692.6,1029.4 697.1,1029.8C701.6,1030.3 706.7,1030.1 710.6,1030.2C714.5,1030.2 717.3,1030.0 720.7,1030.2C724.1,1030.4 726.9,1031.1 730.8,1031.2C734.8,1031.3 738.9,1030.9 744.3,1030.9C749.7,1030.8 757.4,1030.4 764.6,1030.7C771.7,1031.0 783.0,1032.3 787.5,1032.7C792.0,1033.1 794.9,1033.4 798.7,1033.8C802.4,1034.2 806.2,1034.3 809.9,1034.9C813.7,1035.5 817.4,1036.4 821.2,1037.2C824.9,1037.9 828.7,1038.7 832.4,1039.4C836.2,1040.2 839.9,1040.6 843.7,1041.7C847.4,1042.7 851.2,1044.4 854.9,1045.7C858.7,1047.0 862.4,1048.4 866.1,1049.5C869.9,1050.6 873.6,1051.4 877.4,1052.4C881.1,1053.5 884.9,1054.5 888.6,1055.6C892.4,1056.6 896.1,1057.8 899.9,1058.7C903.6,1059.7 907.4,1060.5 911.1,1061.4C914.9,1062.3 918.6,1063.2 922.4,1064.1C926.1,1065.0 929.9,1066.0 933.6,1066.8C937.4,1067.7 941.1,1068.4 944.8,1069.1C948.6,1069.8 952.3,1070.4 956.1,1070.9C959.8,1071.4 963.6,1071.7 967.3,1072.0C971.1,1072.3 974.8,1072.6 978.6,1072.7C982.3,1072.8 986.1,1072.5 989.8,1072.7C993.6,1072.8 997.3,1073.5 1001.1,1073.6C1004.8,1073.7 1007.8,1073.2 1012.3,1073.1C1016.8,1073.0 1028.3,1073.0 1033.8,1072.9C1039.3,1072.9 1043.4,1073.2 1047.6,1072.9C1051.8,1072.7 1055.3,1071.6 1059.1,1071.3C1062.9,1071.1 1066.8,1071.1 1070.6,1071.3C1074.4,1071.6 1078.3,1072.7 1082.1,1072.9C1085.9,1073.2 1089.4,1072.6 1093.6,1072.9C1097.8,1073.2 1103.2,1074.3 1107.4,1074.8C1111.6,1075.3 1115.1,1075.7 1118.9,1075.9C1122.7,1076.1 1126.6,1075.7 1130.4,1075.9C1134.2,1076.1 1138.1,1076.7 1141.9,1077.1C1145.7,1077.5 1149.5,1077.8 1153.4,1078.2C1157.2,1078.6 1160.3,1079.3 1164.9,1079.4C1169.5,1079.5 1174.5,1079.0 1181.0,1078.9C1187.4,1078.8 1196.3,1078.9 1204.0,1078.9C1211.6,1078.9 1219.3,1078.9 1227.0,1078.9C1234.6,1078.9 1245.4,1079.1 1250.0,1078.9C1254.6,1078.8 1257.6,1078.0 1261.5,1077.8C1265.3,1077.6 1268.4,1077.8 1273.0,1077.8C1277.6,1077.8 1288.5,1077.8 1296.0,1077.8C1303.4,1077.8 1314.2,1077.8 1317.8,1077.8" fill="none" stroke="#4472C4" stroke-width="3.2" stroke-linejoin="round" stroke-linecap="butt"/>
<path d="M144.7,1251.5C146.1,1252.2 150.4,1253.8 153.4,1255.5C156.3,1257.2 159.7,1259.4 162.3,1261.5C164.9,1263.6 166.9,1265.4 168.9,1268.2C171.0,1271.0 172.6,1274.3 174.5,1278.2C176.4,1282.1 178.2,1286.7 180.1,1291.6C181.9,1296.4 184.0,1302.7 185.6,1307.1C187.3,1311.6 189.3,1316.3 190.1,1318.3C190.8,1320.2 191.9,1323.2 191.9,1323.2C191.9,1323.2 193.6,1319.6 194.5,1317.2C195.5,1314.7 197.3,1309.9 199.0,1304.9C200.6,1300.0 202.7,1293.4 204.5,1287.1C206.4,1280.8 208.3,1273.8 210.1,1267.1C212.0,1260.4 213.8,1252.5 215.7,1247.1C217.5,1241.6 219.7,1236.9 221.2,1233.7C222.8,1230.5 224.0,1228.9 225.7,1225.9C227.4,1222.9 229.2,1219.4 231.3,1215.9C233.3,1212.4 235.3,1208.5 237.9,1204.8C240.5,1201.1 243.9,1197.3 246.8,1193.6C249.8,1189.9 252.8,1186.2 255.7,1182.5C258.7,1178.8 261.7,1175.1 264.6,1171.4C267.6,1167.7 270.2,1164.1 273.5,1160.2C276.9,1156.4 281.0,1152.3 284.7,1148.0C288.4,1143.7 292.1,1139.1 295.8,1134.7C299.5,1130.2 303.6,1125.6 306.9,1121.3C310.3,1117.0 313.2,1113.0 315.8,1109.1C318.4,1105.2 320.3,1101.8 322.5,1097.9C324.7,1094.0 326.8,1089.8 329.2,1085.7C331.6,1081.6 334.4,1077.3 337.0,1073.4C339.6,1069.6 342.4,1065.3 344.8,1062.3C347.1,1059.4 349.4,1057.5 351.4,1055.6C353.5,1053.8 355.1,1052.2 357.0,1051.2C358.9,1050.2 360.7,1050.0 362.6,1049.4C364.4,1048.9 366.3,1047.9 368.1,1047.9C370.0,1047.8 371.7,1048.5 373.7,1049.0C375.7,1049.4 378.1,1050.2 380.4,1050.7C382.6,1051.3 384.5,1051.8 387.1,1052.3C389.6,1052.8 393.0,1053.5 396.0,1053.9C398.9,1054.2 401.9,1054.4 404.9,1054.3C407.8,1054.2 410.8,1053.9 413.8,1053.4C416.7,1052.9 419.2,1052.5 422.7,1051.2C426.1,1049.9 434.4,1045.8 438.9,1043.6C443.4,1041.3 446.3,1039.6 450.0,1037.5C453.7,1035.5 457.5,1033.9 461.2,1031.3C464.9,1028.7 468.6,1025.1 472.3,1022.0C476.0,1018.8 479.7,1015.6 483.4,1012.4C487.1,1009.2 490.8,1006.0 494.5,1002.8C498.3,999.7 502.0,996.6 505.7,993.5C509.4,990.4 513.5,987.1 516.8,984.1C520.1,981.2 522.7,978.1 525.7,975.7C528.7,973.2 531.6,971.2 534.6,969.4C537.6,967.7 540.2,966.3 543.5,965.0C546.8,963.7 550.9,962.6 554.6,961.9C558.3,961.1 562.1,960.9 565.8,960.5C569.5,960.1 573.2,959.7 576.9,959.4C580.6,959.2 584.3,959.2 588.0,959.0C591.7,958.7 595.8,958.4 599.2,957.9C602.5,957.4 605.5,956.8 608.1,956.1C610.7,955.4 612.1,955.0 614.7,953.9C617.3,952.8 620.7,951.0 623.6,949.4C626.6,947.8 629.6,946.1 632.5,944.1C635.5,942.1 638.5,939.5 641.4,937.4C644.4,935.3 647.4,933.2 650.3,931.6C653.3,930.0 655.9,929.0 659.2,927.6C662.5,926.2 666.1,924.3 670.1,923.3C674.2,922.3 683.6,921.6 683.6,921.6C683.6,921.6 690.4,930.3 693.7,936.3C697.1,942.2 701.2,951.9 703.8,957.3C706.5,962.8 708.1,966.3 710.6,970.8C713.1,975.3 715.6,979.7 719.0,984.3C722.4,989.0 727.2,994.7 730.8,998.7C734.5,1002.6 737.0,1004.7 740.9,1007.9C744.9,1011.2 749.9,1015.2 754.4,1018.0C758.9,1020.9 763.5,1022.9 767.9,1024.8C772.3,1026.7 777.1,1028.1 780.7,1029.3C784.3,1030.5 786.7,1031.4 789.7,1032.2C792.7,1033.0 795.7,1033.8 798.7,1034.2C801.7,1034.7 804.7,1034.9 807.7,1034.9C810.7,1034.9 813.7,1034.7 816.7,1034.2C819.7,1033.8 822.7,1033.0 825.7,1032.2C828.7,1031.4 831.7,1030.4 834.7,1029.3C837.7,1028.2 840.7,1026.9 843.7,1025.5C846.7,1024.1 850.0,1022.6 852.7,1021.0C855.3,1019.4 857.2,1018.0 859.4,1015.8C861.7,1013.6 863.7,1010.9 866.1,1007.9C868.6,1004.9 871.4,1001.4 874.0,997.8C876.6,994.2 879.5,990.5 881.9,986.6C884.3,982.6 886.6,978.1 888.6,974.2C890.7,970.3 892.4,966.3 894.3,963.0C896.1,959.6 897.8,957.1 899.9,954.0C901.9,950.8 904.4,947.2 906.6,943.8C908.9,940.5 911.2,936.5 913.4,933.7C915.5,930.9 919.4,927.0 919.4,927.0C919.4,927.0 922.1,931.1 923.5,933.7C924.9,936.4 926.5,939.3 928.0,942.7C929.5,946.1 931.0,949.8 932.5,954.0C934.0,958.1 935.5,963.0 937.0,967.5C938.5,972.0 939.8,977.0 941.5,980.9C943.2,984.9 945.0,987.9 947.1,991.1C949.2,994.2 951.4,997.2 953.8,1000.1C956.3,1002.9 959.1,1005.5 961.7,1007.9C964.3,1010.4 966.8,1012.5 969.6,1014.7C972.4,1016.8 975.6,1019.1 978.6,1021.0C981.6,1022.8 984.6,1024.5 987.6,1025.9C990.6,1027.3 993.2,1028.2 996.6,1029.3C999.9,1030.4 1004.4,1031.7 1007.8,1032.7C1011.2,1033.6 1013.2,1034.2 1016.8,1035.1C1020.4,1036.1 1025.2,1037.8 1029.2,1038.4C1033.2,1039.1 1036.9,1039.1 1040.7,1039.1C1044.5,1039.1 1048.0,1038.6 1052.2,1038.4C1056.4,1038.3 1061.4,1038.4 1066.0,1038.4C1070.6,1038.4 1075.2,1038.4 1079.8,1038.4C1084.4,1038.4 1089.0,1038.3 1093.6,1038.4C1098.2,1038.6 1102.8,1039.3 1107.4,1039.6C1112.0,1039.9 1117.0,1040.1 1121.2,1040.3C1125.4,1040.5 1129.2,1040.7 1132.7,1040.7C1136.1,1040.8 1138.8,1040.9 1141.9,1040.7C1145.0,1040.6 1148.0,1040.4 1151.1,1039.8C1154.1,1039.3 1157.2,1038.5 1160.3,1037.5C1163.3,1036.5 1166.4,1035.3 1169.5,1033.8C1172.5,1032.4 1175.6,1030.8 1178.7,1028.8C1181.7,1026.8 1185.0,1024.6 1187.9,1021.9C1190.8,1019.2 1193.4,1015.9 1195.9,1012.7C1198.4,1009.4 1200.7,1005.8 1202.8,1002.3C1204.9,998.9 1206.7,995.4 1208.6,992.0C1210.5,988.5 1212.6,984.7 1214.3,981.6C1216.0,978.6 1217.5,975.8 1218.9,973.6C1220.3,971.4 1222.8,968.3 1222.8,968.3C1222.8,968.3 1225.5,973.3 1227.0,975.9C1228.4,978.5 1230.0,981.7 1231.6,983.9C1233.1,986.2 1234.6,987.5 1236.2,989.2C1237.7,991.0 1239.0,992.3 1240.8,994.3C1242.5,996.3 1244.6,998.3 1246.5,1001.2C1248.4,1004.1 1250.2,1007.7 1252.3,1011.5C1254.4,1015.4 1257.1,1020.2 1259.2,1024.2C1261.3,1028.2 1263.0,1032.2 1264.9,1035.7C1266.8,1039.1 1268.6,1041.8 1270.7,1044.9C1272.8,1047.9 1275.3,1051.0 1277.6,1054.1C1279.9,1057.1 1282.2,1060.4 1284.5,1063.3C1286.8,1066.2 1289.1,1068.7 1291.4,1071.3C1293.7,1073.9 1295.6,1076.3 1298.3,1078.9C1300.9,1081.5 1304.2,1084.1 1307.5,1086.7C1310.7,1089.4 1316.1,1093.6 1317.8,1095.0" fill="none" stroke="#FF0000" stroke-width="3.2" stroke-linejoin="round" stroke-linecap="butt"/>
<path d="M144.7,1277.1C146.1,1277.5 150.4,1278.4 153.4,1279.3C156.3,1280.3 159.5,1281.4 162.3,1282.7C165.0,1284.0 167.6,1285.6 170.0,1287.1C172.5,1288.6 174.5,1289.7 176.7,1291.6C178.9,1293.4 181.2,1296.2 183.4,1298.2C185.6,1300.3 187.9,1302.3 190.1,1303.8C192.3,1305.3 194.7,1306.2 196.8,1307.1C198.8,1308.1 201.5,1309.1 202.3,1309.4C203.2,1309.7 204.5,1309.8 204.5,1309.8C204.5,1309.8 206.6,1306.9 207.9,1304.9C209.1,1302.9 210.9,1299.7 212.3,1297.1C213.8,1294.5 215.4,1292.6 216.8,1289.3C218.2,1286.0 219.8,1280.4 221.2,1276.0C222.7,1271.5 224.0,1267.5 225.7,1262.6C227.4,1257.8 229.2,1252.2 231.3,1247.1C233.3,1241.9 235.7,1236.7 237.9,1231.5C240.2,1226.3 242.0,1221.1 244.6,1215.9C247.2,1210.7 250.5,1205.1 253.5,1200.3C256.5,1195.5 259.1,1191.2 262.4,1187.0C265.8,1182.7 269.8,1178.6 273.5,1174.7C277.3,1170.8 281.0,1167.3 284.7,1163.6C288.4,1159.9 292.1,1156.4 295.8,1152.5C299.5,1148.6 303.2,1144.5 306.9,1140.2C310.6,1136.0 314.3,1131.7 318.1,1126.9C321.8,1122.0 325.5,1116.3 329.2,1111.3C332.9,1106.3 336.6,1101.3 340.3,1096.8C344.0,1092.4 348.9,1087.3 351.4,1084.6C354.0,1081.8 355.9,1079.9 358.1,1077.9C360.3,1075.9 362.2,1074.4 364.8,1072.3C367.4,1070.3 370.7,1067.9 373.7,1065.7C376.7,1063.4 379.6,1060.8 382.6,1059.0C385.6,1057.1 388.5,1056.0 391.5,1054.5C394.5,1053.0 397.4,1051.4 400.4,1050.1C403.4,1048.8 406.7,1047.7 409.3,1046.7C411.9,1045.8 413.8,1045.6 416.0,1044.5C418.2,1043.4 420.1,1041.9 422.7,1040.1C425.3,1038.2 434.4,1031.4 438.9,1028.0C443.4,1024.5 446.3,1022.6 450.0,1019.1C453.7,1015.6 457.5,1010.7 461.2,1006.8C464.9,1002.9 468.6,999.0 472.3,995.7C476.0,992.4 479.7,989.7 483.4,986.8C487.1,983.9 490.8,980.8 494.5,978.3C498.3,975.9 502.0,974.2 505.7,972.3C509.4,970.5 513.5,968.4 516.8,967.2C520.1,966.0 523.1,965.6 525.7,965.0C528.3,964.4 529.8,964.3 532.4,963.4C535.0,962.5 538.3,960.9 541.3,959.6C544.3,958.4 547.2,957.4 550.2,956.1C553.2,954.8 556.1,953.0 559.1,951.6C562.1,950.3 565.0,948.8 568.0,947.9C571.0,946.9 573.9,946.5 576.9,946.1C579.9,945.6 582.8,945.5 585.8,945.2C588.8,944.8 591.7,944.4 594.7,944.1C597.7,943.7 601.0,943.4 603.6,943.0C606.2,942.5 608.5,941.9 610.3,941.6C612.1,941.3 612.9,940.9 614.7,941.0C616.5,941.0 619.2,941.3 621.4,941.8C623.6,942.4 625.9,943.3 628.1,944.1C630.3,944.8 632.5,945.7 634.8,946.3C637.0,946.9 639.0,947.3 641.4,947.6C643.9,948.0 647.0,948.7 649.2,948.5C651.5,948.4 652.8,947.9 654.8,946.7C656.8,945.6 662.2,941.8 665.1,939.6C667.9,937.5 669.6,935.0 671.8,933.7C674.1,932.4 676.6,932.3 678.5,931.7C680.5,931.1 683.6,930.0 683.6,930.0C683.6,930.0 686.6,947.4 688.7,959.0C690.7,970.6 693.8,987.7 696.3,1001.2C698.7,1014.7 701.1,1026.8 703.5,1040.0C705.9,1053.2 708.3,1066.7 710.6,1080.4C712.9,1094.2 716.0,1114.5 717.3,1122.6C718.6,1130.7 719.3,1136.1 720.7,1142.8C722.1,1149.6 724.1,1157.0 725.8,1163.1C727.5,1169.1 730.8,1179.1 730.8,1179.1C730.8,1179.1 737.0,1177.7 740.9,1177.4C744.9,1177.1 749.9,1176.3 754.4,1177.4C758.9,1178.5 762.9,1180.8 767.9,1184.1C773.0,1187.5 782.6,1194.9 787.5,1199.0C792.3,1203.2 794.9,1206.5 798.7,1210.3C802.4,1214.0 806.2,1217.4 809.9,1221.5C813.7,1225.7 817.4,1230.6 821.2,1235.0C824.9,1239.4 828.7,1243.8 832.4,1248.1C836.2,1252.4 840.3,1257.5 843.7,1260.9C847.0,1264.3 849.8,1266.7 852.7,1268.7C855.5,1270.8 857.5,1272.3 860.5,1273.2C863.5,1274.2 867.5,1274.9 870.6,1274.4C873.8,1273.8 876.6,1271.6 879.6,1269.9C882.6,1268.2 885.3,1266.7 888.6,1264.2C892.0,1261.8 896.1,1258.3 899.9,1255.3C903.6,1252.3 907.4,1249.1 911.1,1246.3C914.9,1243.5 918.6,1241.0 922.4,1238.4C926.1,1235.8 929.9,1233.0 933.6,1230.5C937.4,1228.1 941.1,1225.8 944.8,1223.8C948.6,1221.7 952.3,1220.0 956.1,1218.2C959.8,1216.3 963.6,1214.3 967.3,1212.5C971.1,1210.8 974.8,1209.2 978.6,1207.6C982.3,1206.0 986.1,1204.6 989.8,1203.1C993.6,1201.6 997.3,1199.9 1001.1,1198.6C1004.8,1197.2 1008.0,1196.5 1012.3,1195.0C1016.6,1193.5 1024.1,1190.8 1026.9,1189.8C1029.7,1188.7 1031.1,1187.8 1033.8,1187.0C1036.5,1186.2 1039.5,1185.5 1043.0,1184.7C1046.4,1183.9 1050.7,1183.3 1054.5,1182.4C1058.3,1181.5 1062.2,1180.1 1066.0,1179.4C1069.8,1178.7 1073.7,1178.6 1077.5,1178.3C1081.3,1177.9 1084.4,1177.6 1089.0,1177.1C1093.6,1176.6 1099.7,1175.6 1105.1,1175.3C1110.5,1174.9 1115.4,1175.0 1121.2,1175.0C1126.9,1175.1 1134.2,1175.2 1139.6,1175.5C1145.0,1175.8 1148.8,1176.5 1153.4,1177.1C1158.0,1177.8 1162.6,1178.8 1167.2,1179.4C1171.8,1180.1 1176.4,1180.4 1181.0,1181.0C1185.6,1181.6 1190.2,1182.5 1194.8,1182.9C1199.4,1183.2 1204.0,1183.4 1208.6,1183.3C1213.2,1183.2 1218.2,1182.9 1222.4,1182.4C1226.6,1181.9 1230.0,1181.1 1233.9,1180.1C1237.7,1179.1 1241.5,1177.7 1245.4,1176.4C1249.2,1175.2 1253.0,1173.9 1256.9,1172.5C1260.7,1171.1 1264.2,1169.3 1268.4,1167.9C1272.6,1166.5 1277.6,1165.1 1282.2,1164.0C1286.8,1162.9 1291.7,1162.0 1296.0,1161.2C1300.2,1160.5 1303.8,1159.8 1307.5,1159.4C1311.1,1159.0 1316.1,1158.8 1317.8,1158.7" fill="none" stroke="#00B050" stroke-width="3.2" stroke-linejoin="round" stroke-linecap="butt"/>
<path d="M144.7,1300.5C145.8,1301.4 148.9,1304.4 151.1,1306.0C153.3,1307.7 155.6,1309.3 157.8,1310.5C160.0,1311.7 162.3,1312.8 164.5,1313.4C166.7,1313.9 168.9,1313.8 171.2,1313.8C173.4,1313.8 175.6,1313.9 177.8,1313.4C180.1,1312.8 182.3,1312.1 184.5,1310.5C186.7,1308.9 189.0,1306.2 191.2,1303.8C193.4,1301.4 195.6,1298.8 197.9,1296.0C200.1,1293.2 201.9,1290.6 204.5,1287.1C207.1,1283.6 210.5,1279.0 213.4,1274.9C216.4,1270.8 219.4,1266.7 222.4,1262.6C225.3,1258.6 228.3,1254.1 231.3,1250.4C234.2,1246.7 236.8,1243.9 240.2,1240.4C243.5,1236.8 247.6,1233.0 251.3,1229.2C255.0,1225.5 258.7,1221.8 262.4,1218.1C266.1,1214.4 269.8,1210.7 273.5,1207.0C277.3,1203.3 281.0,1199.6 284.7,1195.9C288.4,1192.2 292.1,1188.4 295.8,1184.7C299.5,1181.0 303.2,1177.7 306.9,1173.6C310.6,1169.5 314.3,1164.5 318.1,1160.2C321.8,1156.0 325.5,1152.3 329.2,1148.0C332.9,1143.7 336.6,1138.9 340.3,1134.7C344.0,1130.4 347.7,1126.5 351.4,1122.4C355.1,1118.3 359.2,1113.9 362.6,1110.2C365.9,1106.5 368.5,1103.7 371.5,1100.2C374.4,1096.6 377.4,1092.6 380.4,1089.0C383.3,1085.5 386.3,1082.0 389.3,1079.0C392.2,1076.0 395.2,1073.6 398.2,1071.2C401.1,1068.8 403.7,1067.0 407.1,1064.5C410.4,1062.1 413.6,1059.6 418.2,1056.8C422.8,1053.9 434.4,1047.3 438.9,1044.7C443.4,1042.0 446.3,1040.2 450.0,1038.0C453.7,1035.8 457.5,1033.9 461.2,1031.3C464.9,1028.7 468.6,1025.5 472.3,1022.4C476.0,1019.4 479.7,1016.1 483.4,1013.1C487.1,1010.0 490.8,1007.1 494.5,1004.2C498.3,1001.3 502.0,998.4 505.7,995.7C509.4,993.0 513.5,990.5 516.8,987.9C520.1,985.3 522.7,982.5 525.7,980.1C528.7,977.8 531.6,975.7 534.6,973.9C537.6,972.0 540.2,970.4 543.5,969.0C546.8,967.6 550.9,966.5 554.6,965.7C558.3,964.8 562.1,964.2 565.8,963.9C569.5,963.5 573.2,963.3 576.9,963.4C580.6,963.5 584.7,964.0 588.0,964.5C591.4,965.1 594.0,965.7 596.9,966.8C599.9,967.8 602.9,969.3 605.8,970.8C608.8,972.3 611.8,974.0 614.7,975.7C617.7,977.3 620.7,979.1 623.6,980.6C626.6,982.1 629.6,983.5 632.5,984.6C635.5,985.7 638.5,986.5 641.4,987.2C644.4,988.0 646.7,988.8 650.3,989.0C654.0,989.2 669.4,989.2 673.5,989.0C677.6,988.9 680.2,988.5 683.6,987.7C687.0,986.9 690.4,985.7 693.7,984.3C697.1,982.9 699.9,981.2 703.8,979.3C707.8,977.3 712.8,974.9 717.3,972.5C721.8,970.1 727.0,966.6 730.8,964.9C734.7,963.2 737.0,962.8 740.9,962.1C744.9,961.3 750.2,960.9 754.4,960.4C758.7,959.9 763.1,958.5 766.2,959.0C769.3,959.5 770.4,961.3 773.0,963.2C775.5,965.1 782.0,969.9 785.2,973.1C788.4,976.2 789.7,979.1 792.0,982.1C794.2,985.1 796.1,987.9 798.7,991.1C801.3,994.2 804.7,998.0 807.7,1001.2C810.7,1004.4 813.7,1007.4 816.7,1010.2C819.7,1013.0 822.7,1015.8 825.7,1018.0C828.7,1020.3 831.7,1021.9 834.7,1023.7C837.7,1025.4 840.7,1027.1 843.7,1028.6C846.7,1030.1 849.7,1031.4 852.7,1032.7C855.7,1033.9 858.7,1035.1 861.7,1036.0C864.7,1037.0 867.6,1037.6 870.6,1038.3C873.6,1038.9 876.6,1039.4 879.6,1039.9C882.6,1040.3 885.6,1040.8 888.6,1041.0C891.6,1041.2 894.6,1041.4 897.6,1041.2C900.6,1041.0 903.6,1040.3 906.6,1039.9C909.6,1039.4 912.6,1038.8 915.6,1038.3C918.6,1037.8 921.6,1037.5 924.6,1036.7C927.6,1036.0 930.6,1034.9 933.6,1033.8C936.6,1032.7 939.6,1031.5 942.6,1030.0C945.6,1028.5 948.6,1026.6 951.6,1024.8C954.6,1023.0 958.0,1020.9 960.6,1019.2C963.2,1017.4 965.1,1016.1 967.3,1014.2C969.6,1012.3 971.8,1009.8 974.1,1007.9C976.3,1006.1 978.6,1004.5 980.8,1003.0C983.1,1001.5 985.3,1000.0 987.6,998.9C989.8,997.9 992.1,997.4 994.3,996.7C996.6,995.9 998.8,995.2 1001.1,994.4C1003.3,993.7 1005.6,993.1 1007.8,992.2C1010.1,991.2 1011.9,990.3 1014.5,988.8C1017.2,987.4 1023.5,983.4 1026.9,981.6C1030.3,979.9 1035.6,977.7 1035.6,977.7C1035.6,977.7 1037.9,982.9 1039.5,986.2C1041.2,989.6 1043.2,993.7 1045.3,997.7C1047.4,1001.8 1049.9,1006.4 1052.2,1010.4C1054.5,1014.4 1056.8,1018.4 1059.1,1021.9C1061.4,1025.3 1063.5,1028.2 1066.0,1031.1C1068.5,1034.0 1071.4,1036.8 1074.0,1039.1C1076.7,1041.4 1079.2,1043.0 1082.1,1044.9C1085.0,1046.8 1088.2,1048.9 1091.3,1050.6C1094.4,1052.4 1097.4,1054.0 1100.5,1055.2C1103.6,1056.5 1106.6,1057.5 1109.7,1058.2C1112.8,1059.0 1115.8,1059.3 1118.9,1059.8C1122.0,1060.4 1124.6,1061.2 1128.1,1061.4C1131.5,1061.7 1135.8,1061.6 1139.6,1061.4C1143.4,1061.2 1147.3,1060.7 1151.1,1060.3C1154.9,1059.9 1158.7,1059.5 1162.6,1059.1C1166.4,1058.8 1170.2,1058.5 1174.1,1058.0C1177.9,1057.5 1182.1,1056.6 1185.6,1055.9C1189.0,1055.3 1192.5,1054.5 1194.8,1054.1C1197.1,1053.6 1198.6,1053.7 1200.5,1052.9C1202.4,1052.2 1204.2,1050.8 1206.3,1049.5C1208.4,1048.1 1211.1,1046.8 1213.2,1044.9C1215.3,1043.0 1217.0,1040.7 1218.9,1038.0C1220.8,1035.3 1222.9,1031.8 1224.7,1028.8C1226.4,1025.7 1227.9,1022.5 1229.3,1019.6C1230.6,1016.7 1232.3,1012.4 1232.7,1011.5C1233.2,1010.7 1234.6,1009.9 1234.6,1009.9C1234.6,1009.9 1237.1,1011.7 1238.5,1012.7C1239.9,1013.7 1241.5,1014.8 1243.1,1016.1C1244.6,1017.5 1246.2,1018.6 1247.7,1020.7C1249.1,1022.9 1252.3,1029.2 1254.6,1033.4C1256.9,1037.6 1259.2,1041.8 1261.5,1046.0C1263.8,1050.2 1266.1,1054.5 1268.4,1058.7C1270.7,1062.9 1273.0,1067.1 1275.3,1071.3C1277.6,1075.5 1279.9,1080.0 1282.2,1084.0C1284.5,1088.0 1286.8,1091.8 1289.1,1095.5C1291.4,1099.1 1293.7,1102.6 1296.0,1105.8C1298.3,1109.1 1300.4,1112.0 1302.9,1115.0C1305.4,1118.1 1308.4,1121.3 1310.9,1124.2C1313.4,1127.1 1316.7,1130.9 1317.8,1132.3" fill="none" stroke="#FFC000" stroke-width="3.2" stroke-linejoin="round" stroke-linecap="butt"/>
<rect x="473.4" y="1348.3" width="737.7" height="207.7" fill="#fff" stroke="#000" stroke-width="5.8" stroke-linejoin="round"/>
<path d="M507.0,1373.7H555.6" stroke="#4472C4" stroke-width="2.9" stroke-linecap="round"/>
<text x="559.8" y="1381.6" font-family='"Liberation Sans", "DejaVu Sans", sans-serif' font-size="25.2" font-weight="bold" text-anchor="start" textLength="209.7" lengthAdjust="spacingAndGlyphs">Propagation free</text>
<path d="M507.0,1425.3H555.6" stroke="#FF0000" stroke-width="2.9" stroke-linecap="round"/>
<text x="559.8" y="1433.2" font-family='"Liberation Sans", "DejaVu Sans", sans-serif' font-size="25.2" font-weight="bold" text-anchor="start" textLength="291.4" lengthAdjust="spacingAndGlyphs">A uniform Au electrode</text>
<path d="M507.0,1478.2H555.6" stroke="#00B050" stroke-width="2.9" stroke-linecap="round"/>
<text x="559.8" y="1486.1" font-family='"Liberation Sans", "DejaVu Sans", sans-serif' font-size="25.2" font-weight="bold" text-anchor="start" textLength="611.8" lengthAdjust="spacingAndGlyphs">Periodic floating electrodes with equipotentiality</text>
<path d="M507.0,1529.8H555.6" stroke="#FFC000" stroke-width="2.9" stroke-linecap="round"/>
<text x="559.8" y="1537.7" font-family='"Liberation Sans", "DejaVu Sans", sans-serif' font-size="25.2" font-weight="bold" text-anchor="start" textLength="340.3" lengthAdjust="spacingAndGlyphs">Periodic floating electrodes</text>
<text x="98.6" y="915.0" font-family='"Liberation Sans", "DejaVu Sans", sans-serif' font-size="35.3" font-weight="bold" text-anchor="end">0</text>
<text x="108.0" y="983.1" font-family='"Liberation Sans", "DejaVu Sans", sans-serif' font-size="35.3" font-weight="bold" text-anchor="end">10</text>
<text x="108.0" y="1051.3" font-family='"Liberation Sans", "DejaVu Sans", sans-serif' font-size="35.3" font-weight="bold" text-anchor="end">20</text>
<text x="108.0" y="1119.4" font-family='"Liberation Sans", "DejaVu Sans", sans-serif' font-size="35.3" font-weight="bold" text-anchor="end">30</text>
<text x="108.0" y="1187.6" font-family='"Liberation Sans", "DejaVu Sans", sans-serif' font-size="35.3" font-weight="bold" text-anchor="end">40</text>
<text x="108.0" y="1255.7" font-family='"Liberation Sans", "DejaVu Sans", sans-serif' font-size="35.3" font-weight="bold" text-anchor="end">50</text>
<text x="108.0" y="1323.8" font-family='"Liberation Sans", "DejaVu Sans", sans-serif' font-size="35.3" font-weight="bold" text-anchor="end">60</text>
<text x="108.0" y="1392.0" font-family='"Liberation Sans", "DejaVu Sans", sans-serif' font-size="35.3" font-weight="bold" text-anchor="end">70</text>
<text x="108.0" y="1460.1" font-family='"Liberation Sans", "DejaVu Sans", sans-serif' font-size="35.3" font-weight="bold" text-anchor="end">80</text>
<text x="108.0" y="1528.3" font-family='"Liberation Sans", "DejaVu Sans", sans-serif' font-size="35.3" font-weight="bold" text-anchor="end">90</text>
<text x="108.0" y="1596.4" font-family='"Liberation Sans", "DejaVu Sans", sans-serif' font-size="35.3" font-weight="bold" text-anchor="end">100</text>
<text x="144.7" y="1648.4" font-family='"Liberation Sans", "DejaVu Sans", sans-serif' font-size="35.5" font-weight="bold" text-anchor="middle">600</text>
<text x="379.3" y="1648.4" font-family='"Liberation Sans", "DejaVu Sans", sans-serif' font-size="35.5" font-weight="bold" text-anchor="middle">620</text>
<text x="614.0" y="1648.4" font-family='"Liberation Sans", "DejaVu Sans", sans-serif' font-size="35.5" font-weight="bold" text-anchor="middle">640</text>
<text x="848.6" y="1648.4" font-family='"Liberation Sans", "DejaVu Sans", sans-serif' font-size="35.5" font-weight="bold" text-anchor="middle">660</text>
<text x="1083.2" y="1648.4" font-family='"Liberation Sans", "DejaVu Sans", sans-serif' font-size="35.5" font-weight="bold" text-anchor="middle">680</text>
<text x="1317.8" y="1648.4" font-family='"Liberation Sans", "DejaVu Sans", sans-serif' font-size="35.5" font-weight="bold" text-anchor="middle">700</text>
<text x="730.2" y="1703.7" font-family='"Liberation Sans", "DejaVu Sans", sans-serif' font-size="33.6" font-weight="bold" text-anchor="middle" textLength="274.5" lengthAdjust="spacingAndGlyphs">Frequency[MHz]</text>
<g transform="translate(29.2,1243.4) rotate(-90)"><text x="0.0" y="0.0" font-family='"Liberation Sans", "DejaVu Sans", sans-serif' font-size="34.5" font-weight="bold" text-anchor="middle" textLength="296.5" lengthAdjust="spacingAndGlyphs">Insertion Loss[dB]</text></g>
<text x="426.6" y="865.6" font-family='"Liberation Sans", "DejaVu Sans", sans-serif' font-size="33" font-weight="normal" text-anchor="start">(a)</text>
<text x="481.5" y="865.6" font-family='"Liberation Serif", "DejaVu Serif", serif' font-size="37" font-weight="normal" text-anchor="start" textLength="482.0" lengthAdjust="spacingAndGlyphs">Insertion loss at 300–900 MHz.</text>
<text x="426.4" y="1771.0" font-family='"Liberation Sans", "DejaVu Sans", sans-serif' font-size="33" font-weight="normal" text-anchor="start">(b)</text>
<text x="481.5" y="1771.2" font-family='"Liberation Serif", "DejaVu Serif", serif' font-size="37" font-weight="normal" text-anchor="start" textLength="482.0" lengthAdjust="spacingAndGlyphs">Insertion loss at 600–700 MHz.</text>
</svg>
</body>
</html>
